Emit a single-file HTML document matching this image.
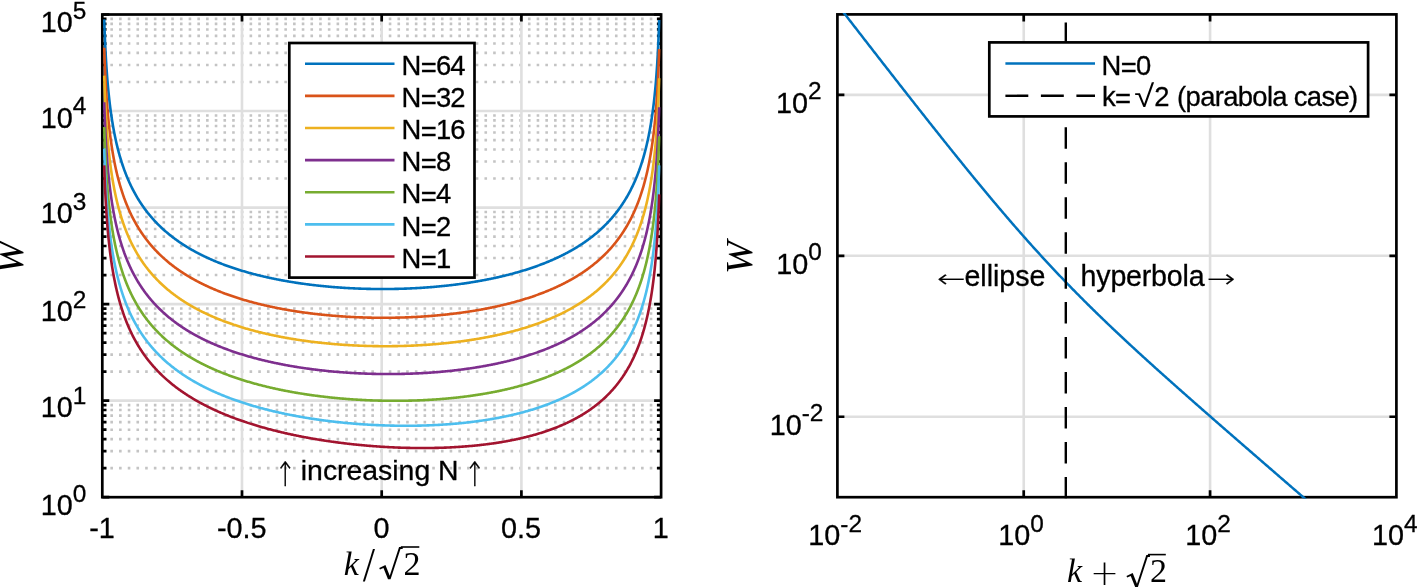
<!DOCTYPE html>
<html lang="en"><head><meta charset="utf-8"><title>W(k) plots</title>
<style>html,body{margin:0;padding:0;background:#fff;}body{width:1419px;height:587px;overflow:hidden;}svg{display:block;}</style>
</head><body>
<svg width="1419" height="587" viewBox="0 0 1419 587">
<rect width="1419" height="587" fill="#fff"/>
<defs><clipPath id="cl"><rect x="102.3" y="14.5" width="558.8" height="482.7"/></clipPath>
<clipPath id="cr"><rect x="837.4" y="13" width="559" height="485.6"/></clipPath></defs>
<path d="M110.35 468.14H661.1M110.35 451.14H661.1M110.35 439.08H661.1M110.35 429.72H661.1M110.35 422.08H661.1M110.35 415.61H661.1M110.35 410.02H661.1M110.35 405.08H661.1M110.35 371.6H661.1M110.35 354.6H661.1M110.35 342.54H661.1M110.35 333.18H661.1M110.35 325.54H661.1M110.35 319.07H661.1M110.35 313.48H661.1M110.35 308.54H661.1M110.35 275.06H661.1M110.35 258.06H661.1M110.35 246H661.1M110.35 236.64H661.1M110.35 229H661.1M110.35 222.53H661.1M110.35 216.94H661.1M110.35 212H661.1M110.35 178.52H661.1M110.35 161.52H661.1M110.35 149.46H661.1M110.35 140.1H661.1M110.35 132.46H661.1M110.35 125.99H661.1M110.35 120.4H661.1M110.35 115.46H661.1M110.35 81.98H661.1M110.35 64.98H661.1M110.35 52.92H661.1M110.35 43.56H661.1M110.35 35.92H661.1M110.35 29.45H661.1M110.35 23.86H661.1M110.35 18.92H661.1" stroke="#C4C4C4" stroke-width="2.6" stroke-dasharray="2.6 6.1" fill="none"/>
<path d="M102.3 400.66H661.1M102.3 304.12H661.1M102.3 207.58H661.1M102.3 111.04H661.1M242 14.5V497.2M381.7 14.5V497.2M521.4 14.5V497.2" stroke="#DFDFDF" stroke-width="2.6" fill="none"/>
<path d="M242 497.2v-7M242 14.5v7M381.7 497.2v-7M381.7 14.5v7M521.4 497.2v-7M521.4 14.5v7M102.3 497.2h7M661.1 497.2h-7M102.3 468.14h4.2M661.1 468.14h-4.2M102.3 451.14h4.2M661.1 451.14h-4.2M102.3 439.08h4.2M661.1 439.08h-4.2M102.3 429.72h4.2M661.1 429.72h-4.2M102.3 422.08h4.2M661.1 422.08h-4.2M102.3 415.61h4.2M661.1 415.61h-4.2M102.3 410.02h4.2M661.1 410.02h-4.2M102.3 405.08h4.2M661.1 405.08h-4.2M102.3 400.66h7M661.1 400.66h-7M102.3 371.6h4.2M661.1 371.6h-4.2M102.3 354.6h4.2M661.1 354.6h-4.2M102.3 342.54h4.2M661.1 342.54h-4.2M102.3 333.18h4.2M661.1 333.18h-4.2M102.3 325.54h4.2M661.1 325.54h-4.2M102.3 319.07h4.2M661.1 319.07h-4.2M102.3 313.48h4.2M661.1 313.48h-4.2M102.3 308.54h4.2M661.1 308.54h-4.2M102.3 304.12h7M661.1 304.12h-7M102.3 275.06h4.2M661.1 275.06h-4.2M102.3 258.06h4.2M661.1 258.06h-4.2M102.3 246h4.2M661.1 246h-4.2M102.3 236.64h4.2M661.1 236.64h-4.2M102.3 229h4.2M661.1 229h-4.2M102.3 222.53h4.2M661.1 222.53h-4.2M102.3 216.94h4.2M661.1 216.94h-4.2M102.3 212h4.2M661.1 212h-4.2M102.3 207.58h7M661.1 207.58h-7M102.3 178.52h4.2M661.1 178.52h-4.2M102.3 161.52h4.2M661.1 161.52h-4.2M102.3 149.46h4.2M661.1 149.46h-4.2M102.3 140.1h4.2M661.1 140.1h-4.2M102.3 132.46h4.2M661.1 132.46h-4.2M102.3 125.99h4.2M661.1 125.99h-4.2M102.3 120.4h4.2M661.1 120.4h-4.2M102.3 115.46h4.2M661.1 115.46h-4.2M102.3 111.04h7M661.1 111.04h-7M102.3 81.98h4.2M661.1 81.98h-4.2M102.3 64.98h4.2M661.1 64.98h-4.2M102.3 52.92h4.2M661.1 52.92h-4.2M102.3 43.56h4.2M661.1 43.56h-4.2M102.3 35.92h4.2M661.1 35.92h-4.2M102.3 29.45h4.2M661.1 29.45h-4.2M102.3 23.86h4.2M661.1 23.86h-4.2M102.3 18.92h4.2M661.1 18.92h-4.2M102.3 14.5h7M661.1 14.5h-7" stroke="#000" stroke-width="2.7" fill="none"/>
<rect x="102.3" y="14.5" width="558.8" height="482.7" fill="none" stroke="#000" stroke-width="2.7"/>
<g clip-path="url(#cl)" fill="none" stroke-width="2.6" stroke-linejoin="round">
<polyline points="104.24,19.41 104.29,21.08 104.39,24.33 104.5,27.5 104.61,30.59 104.73,33.6 104.85,36.54 104.97,39.42 105.09,42.23 105.21,44.97 105.34,47.66 105.47,50.29 105.6,52.86 105.74,55.38 105.88,57.85 106.02,60.27 106.16,62.65 106.31,64.97 106.46,67.26 106.61,69.5 106.77,71.71 106.93,73.87 107.09,76 107.25,78.09 107.41,80.14 107.58,82.16 107.75,84.15 107.93,86.1 108.11,88.02 108.28,89.92 108.47,91.78 108.65,93.62 108.84,95.42 109.03,97.21 109.22,98.96 109.42,100.69 109.62,102.39 109.82,104.08 110.02,105.73 110.23,107.37 110.44,108.98 110.65,110.57 110.86,112.14 111.08,113.69 111.3,115.22 111.52,116.73 111.74,118.22 111.97,119.69 112.2,121.14 112.44,122.58 112.67,124 112.91,125.4 113.15,126.78 113.39,128.15 113.64,129.5 113.89,130.84 114.14,132.16 114.39,133.47 114.65,134.76 114.91,136.04 115.17,137.3 115.44,138.55 115.7,139.79 115.97,141.01 116.25,142.22 116.52,143.42 116.8,144.6 117.08,145.77 117.36,146.93 117.65,148.08 117.94,149.22 118.23,150.34 118.52,151.46 118.82,152.56 119.12,153.65 119.42,154.74 119.72,155.81 120.03,156.87 120.34,157.92 120.65,158.96 120.96,159.99 121.28,161.01 121.6,162.02 121.92,163.03 122.24,164.02 122.57,165.01 122.9,165.98 123.23,166.95 123.57,167.91 123.91,168.86 124.24,169.8 124.59,170.73 124.93,171.66 125.28,172.57 125.63,173.48 125.98,174.39 126.34,175.28 126.69,176.17 127.05,177.05 127.42,177.92 127.78,178.78 128.15,179.64 128.52,180.49 128.89,181.33 129.27,182.17 129.64,183 130.02,183.82 130.41,184.64 130.79,185.45 131.18,186.25 131.57,187.05 131.96,187.84 132.36,188.63 132.75,189.4 133.15,190.18 133.55,190.94 133.96,191.71 134.37,192.46 134.78,193.21 135.19,193.95 135.6,194.69 136.02,195.42 136.44,196.15 136.86,196.87 137.28,197.59 137.71,198.3 138.14,199.01 138.57,199.71 139,200.4 139.44,201.09 139.88,201.78 140.32,202.46 140.76,203.14 141.21,203.81 141.66,204.47 142.11,205.13 142.56,205.79 143.01,206.44 143.47,207.09 143.93,207.73 144.39,208.37 144.86,209.01 145.33,209.64 145.79,210.26 146.27,210.88 146.74,211.5 147.22,212.11 147.69,212.72 148.18,213.32 148.66,213.92 149.14,214.52 149.63,215.11 150.12,215.7 150.61,216.28 151.11,216.86 151.6,217.44 152.1,218.01 152.61,218.58 153.11,219.14 153.61,219.7 154.12,220.26 154.63,220.81 155.15,221.36 155.66,221.91 156.18,222.45 156.7,222.99 157.22,223.53 157.74,224.06 158.27,224.59 158.8,225.11 159.33,225.63 159.86,226.15 160.39,226.67 160.93,227.18 161.47,227.69 162.01,228.19 162.55,228.69 163.1,229.19 163.65,229.69 164.2,230.18 164.75,230.67 165.3,231.15 165.86,231.64 166.42,232.12 166.98,232.59 167.54,233.07 168.11,233.54 168.67,234.01 169.24,234.47 169.81,234.93 170.39,235.39 170.96,235.85 171.54,236.3 172.12,236.75 172.7,237.2 173.28,237.64 173.87,238.08 174.46,238.52 175.05,238.96 175.64,239.39 176.23,239.82 176.83,240.25 177.43,240.68 178.03,241.1 178.63,241.52 179.23,241.94 179.84,242.35 180.45,242.76 181.06,243.17 181.67,243.58 182.28,243.99 182.9,244.39 183.51,244.79 184.13,245.18 184.76,245.58 185.38,245.97 186.01,246.36 186.63,246.75 187.26,247.13 187.89,247.51 188.53,247.89 189.16,248.27 189.8,248.65 190.44,249.02 191.08,249.39 191.72,249.76 192.37,250.13 193.01,250.49 193.66,250.85 194.31,251.21 194.96,251.57 195.62,251.92 196.27,252.27 196.93,252.62 197.59,252.97 198.25,253.32 198.91,253.66 199.58,254 200.24,254.34 200.91,254.68 201.58,255.01 202.25,255.35 202.93,255.68 203.6,256.01 204.28,256.33 204.96,256.66 205.64,256.98 206.32,257.3 207.01,257.62 207.69,257.94 208.38,258.25 209.07,258.56 209.76,258.87 210.45,259.18 211.15,259.49 211.84,259.79 212.54,260.09 213.24,260.39 213.94,260.69 214.65,260.99 215.35,261.28 216.06,261.58 216.76,261.87 217.47,262.16 218.18,262.44 218.9,262.73 219.61,263.01 220.33,263.29 221.04,263.57 221.76,263.85 222.48,264.13 223.21,264.4 223.93,264.67 224.65,264.94 225.38,265.21 226.11,265.48 226.84,265.74 227.57,266.01 228.3,266.27 229.04,266.53 229.77,266.78 230.51,267.04 231.25,267.29 231.99,267.55 232.73,267.8 233.48,268.05 234.22,268.29 234.97,268.54 235.71,268.78 236.46,269.03 237.21,269.27 237.97,269.51 238.72,269.74 239.47,269.98 240.23,270.21 240.99,270.44 241.75,270.67 242.51,270.9 243.27,271.13 244.03,271.36 244.8,271.58 245.56,271.8 246.33,272.02 247.1,272.24 247.87,272.46 248.64,272.68 249.41,272.89 250.19,273.1 250.96,273.31 251.74,273.52 252.51,273.73 253.29,273.94 254.07,274.14 254.86,274.34 255.64,274.55 256.42,274.75 257.21,274.94 257.99,275.14 258.78,275.34 259.57,275.53 260.36,275.72 261.15,275.91 261.94,276.1 262.74,276.29 263.53,276.48 264.33,276.66 265.13,276.85 265.92,277.03 266.72,277.21 267.52,277.39 268.33,277.56 269.13,277.74 269.93,277.91 270.74,278.09 271.54,278.26 272.35,278.43 273.16,278.6 273.97,278.76 274.78,278.93 275.59,279.09 276.4,279.26 277.22,279.42 278.03,279.58 278.85,279.73 279.66,279.89 280.48,280.05 281.3,280.2 282.12,280.35 282.94,280.5 283.76,280.65 284.58,280.8 285.41,280.95 286.23,281.09 287.06,281.24 287.88,281.38 288.71,281.52 289.54,281.66 290.37,281.8 291.2,281.94 292.03,282.07 292.86,282.21 293.69,282.34 294.53,282.47 295.36,282.6 296.2,282.73 297.03,282.86 297.87,282.99 298.71,283.11 299.55,283.23 300.38,283.36 301.22,283.48 302.07,283.6 302.91,283.71 303.75,283.83 304.59,283.95 305.44,284.06 306.28,284.17 307.13,284.28 307.97,284.39 308.82,284.5 309.67,284.61 310.52,284.72 311.37,284.82 312.22,284.92 313.07,285.03 313.92,285.13 314.77,285.23 315.62,285.32 316.48,285.42 317.33,285.52 318.18,285.61 319.04,285.7 319.89,285.8 320.75,285.89 321.61,285.97 322.47,286.06 323.32,286.15 324.18,286.23 325.04,286.32 325.9,286.4 326.76,286.48 327.62,286.56 328.48,286.64 329.35,286.72 330.21,286.79 331.07,286.87 331.93,286.94 332.8,287.01 333.66,287.08 334.53,287.15 335.39,287.22 336.26,287.29 337.13,287.35 337.99,287.42 338.86,287.48 339.73,287.54 340.59,287.6 341.46,287.66 342.33,287.72 343.2,287.78 344.07,287.83 344.94,287.89 345.81,287.94 346.68,287.99 347.55,288.04 348.42,288.09 349.3,288.14 350.17,288.19 351.04,288.23 351.91,288.28 352.79,288.32 353.66,288.36 354.53,288.4 355.41,288.44 356.28,288.48 357.15,288.52 358.03,288.55 358.9,288.59 359.78,288.62 360.65,288.65 361.53,288.68 362.4,288.71 363.28,288.74 364.16,288.77 365.03,288.79 365.91,288.82 366.79,288.84 367.66,288.86 368.54,288.88 369.42,288.9 370.29,288.92 371.17,288.94 372.05,288.95 372.92,288.97 373.8,288.98 374.68,288.99 375.56,289 376.43,289.01 377.31,289.02 378.19,289.03 379.07,289.03 379.94,289.04 380.82,289.04 381.7,289.04 382.58,289.04 383.46,289.04 384.33,289.04 385.21,289.04 386.09,289.03 386.97,289.03 387.84,289.02 388.72,289.01 389.6,289 390.48,288.99 391.35,288.98 392.23,288.97 393.11,288.95 393.98,288.94 394.86,288.92 395.74,288.9 396.61,288.88 397.49,288.86 398.37,288.84 399.24,288.82 400.12,288.79 401,288.77 401.87,288.74 402.75,288.71 403.62,288.69 404.5,288.65 405.37,288.62 406.25,288.59 407.12,288.56 407.99,288.52 408.87,288.48 409.74,288.45 410.61,288.41 411.49,288.37 412.36,288.32 413.23,288.28 414.1,288.24 414.98,288.19 415.85,288.14 416.72,288.1 417.59,288.05 418.46,288 419.33,287.95 420.2,287.89 421.07,287.84 421.94,287.78 422.81,287.73 423.67,287.67 424.54,287.61 425.41,287.55 426.27,287.49 427.14,287.42 428.01,287.36 428.87,287.29 429.74,287.22 430.6,287.16 431.47,287.09 432.33,287.02 433.19,286.94 434.05,286.87 434.92,286.8 435.78,286.72 436.64,286.64 437.5,286.56 438.36,286.48 439.22,286.4 440.08,286.32 440.93,286.24 441.79,286.15 442.65,286.06 443.51,285.98 444.36,285.89 445.22,285.8 446.07,285.71 446.92,285.61 447.78,285.52 448.63,285.42 449.48,285.33 450.33,285.23 451.18,285.13 452.03,285.03 452.88,284.92 453.73,284.82 454.58,284.72 455.43,284.61 456.27,284.5 457.12,284.39 457.96,284.28 458.81,284.17 459.65,284.06 460.49,283.94 461.33,283.83 462.18,283.71 463.02,283.59 463.85,283.47 464.69,283.35 465.53,283.23 466.37,283.11 467.2,282.98 468.04,282.86 468.87,282.73 469.71,282.6 470.54,282.47 471.37,282.34 472.2,282.2 473.03,282.07 473.86,281.93 474.69,281.79 475.52,281.65 476.34,281.51 477.17,281.37 477.99,281.23 478.82,281.08 479.64,280.94 480.46,280.79 481.28,280.64 482.1,280.49 482.92,280.34 483.74,280.19 484.55,280.03 485.37,279.88 486.18,279.72 487,279.56 487.81,279.4 488.62,279.24 489.43,279.07 490.24,278.91 491.05,278.74 491.86,278.58 492.66,278.41 493.47,278.24 494.27,278.06 495.07,277.89 495.88,277.71 496.68,277.54 497.48,277.36 498.27,277.18 499.07,277 499.87,276.82 500.66,276.63 501.46,276.45 502.25,276.26 503.04,276.07 503.83,275.88 504.62,275.69 505.41,275.5 506.19,275.3 506.98,275.1 507.76,274.91 508.54,274.71 509.33,274.51 510.11,274.3 510.89,274.1 511.66,273.89 512.44,273.69 513.21,273.48 513.99,273.27 514.76,273.05 515.53,272.84 516.3,272.62 517.07,272.41 517.84,272.19 518.6,271.97 519.37,271.75 520.13,271.52 520.89,271.3 521.65,271.07 522.41,270.84 523.17,270.61 523.93,270.38 524.68,270.15 525.43,269.91 526.19,269.67 526.94,269.44 527.69,269.2 528.43,268.95 529.18,268.71 529.92,268.46 530.67,268.22 531.41,267.97 532.15,267.72 532.89,267.47 533.63,267.21 534.36,266.95 535.1,266.7 535.83,266.44 536.56,266.18 537.29,265.91 538.02,265.65 538.75,265.38 539.47,265.11 540.19,264.84 540.92,264.57 541.64,264.3 542.36,264.02 543.07,263.74 543.79,263.46 544.5,263.18 545.22,262.9 545.93,262.61 546.64,262.33 547.34,262.04 548.05,261.75 548.75,261.45 549.46,261.16 550.16,260.86 550.86,260.56 551.56,260.26 552.25,259.96 552.95,259.65 553.64,259.35 554.33,259.04 555.02,258.73 555.71,258.41 556.39,258.1 557.08,257.78 557.76,257.46 558.44,257.14 559.12,256.82 559.8,256.5 560.47,256.17 561.15,255.84 561.82,255.51 562.49,255.17 563.16,254.84 563.82,254.5 564.49,254.16 565.15,253.82 565.81,253.47 566.47,253.13 567.13,252.78 567.78,252.43 568.44,252.07 569.09,251.72 569.74,251.36 570.39,251 571.03,250.64 571.68,250.27 572.32,249.91 572.96,249.54 573.6,249.17 574.24,248.79 574.87,248.42 575.51,248.04 576.14,247.66 576.77,247.27 577.39,246.89 578.02,246.5 578.64,246.11 579.27,245.72 579.89,245.32 580.5,244.92 581.12,244.52 581.73,244.12 582.34,243.71 582.95,243.3 583.56,242.89 584.17,242.48 584.77,242.06 585.37,241.64 585.97,241.22 586.57,240.8 587.17,240.37 587.76,239.94 588.35,239.51 588.94,239.07 589.53,238.64 590.12,238.2 590.7,237.75 591.28,237.31 591.86,236.86 592.44,236.41 593.01,235.95 593.59,235.49 594.16,235.03 594.73,234.57 595.29,234.1 595.86,233.63 596.42,233.16 596.98,232.68 597.54,232.21 598.1,231.72 598.65,231.24 599.2,230.75 599.75,230.26 600.3,229.77 600.85,229.27 601.39,228.77 601.93,228.26 602.47,227.76 603.01,227.25 603.54,226.73 604.07,226.21 604.6,225.69 605.13,225.17 605.66,224.64 606.18,224.11 606.7,223.58 607.22,223.04 607.74,222.5 608.25,221.95 608.77,221.4 609.28,220.85 609.79,220.29 610.29,219.73 610.79,219.17 611.3,218.6 611.8,218.03 612.29,217.46 612.79,216.88 613.28,216.29 613.77,215.71 614.26,215.12 614.74,214.52 615.22,213.92 615.71,213.32 616.18,212.71 616.66,212.1 617.13,211.48 617.61,210.86 618.07,210.24 618.54,209.61 619.01,208.98 619.47,208.34 619.93,207.7 620.39,207.05 620.84,206.4 621.29,205.74 621.74,205.08 622.19,204.42 622.64,203.75 623.08,203.07 623.52,202.39 623.96,201.71 624.4,201.02 624.83,200.32 625.26,199.62 625.69,198.92 626.12,198.21 626.54,197.49 626.96,196.77 627.38,196.04 627.8,195.31 628.21,194.57 628.62,193.83 629.03,193.08 629.44,192.33 629.85,191.57 630.25,190.8 630.65,190.03 631.04,189.25 631.44,188.46 631.83,187.67 632.22,186.88 632.61,186.07 632.99,185.26 633.38,184.45 633.76,183.63 634.13,182.8 634.51,181.96 634.88,181.12 635.25,180.27 635.62,179.41 635.98,178.55 636.35,177.68 636.71,176.8 637.06,175.91 637.42,175.02 637.77,174.12 638.12,173.21 638.47,172.29 638.81,171.36 639.16,170.43 639.49,169.49 639.83,168.54 640.17,167.58 640.5,166.62 640.83,165.64 641.16,164.66 641.48,163.66 641.8,162.66 642.12,161.65 642.44,160.63 642.75,159.6 643.06,158.56 643.37,157.51 643.68,156.45 643.98,155.37 644.28,154.29 644.58,153.2 644.88,152.1 645.17,150.98 645.46,149.86 645.75,148.72 646.04,147.57 646.32,146.41 646.6,145.24 646.88,144.06 647.15,142.86 647.43,141.65 647.7,140.43 647.96,139.19 648.23,137.94 648.49,136.68 648.75,135.4 649.01,134.11 649.26,132.81 649.51,131.48 649.76,130.15 650.01,128.8 650.25,127.43 650.49,126.04 650.73,124.64 650.96,123.22 651.2,121.79 651.43,120.34 651.66,118.86 651.88,117.37 652.1,115.86 652.32,114.34 652.54,112.79 652.75,111.22 652.96,109.63 653.17,108.01 653.38,106.38 653.58,104.72 653.78,103.04 653.98,101.34 654.18,99.61 654.37,97.85 654.56,96.07 654.75,94.26 654.93,92.43 655.12,90.56 655.29,88.67 655.47,86.75 655.65,84.79 655.82,82.81 655.99,80.79 656.15,78.73 656.31,76.64 656.47,74.52 656.63,72.35 656.79,70.15 656.94,67.91 657.09,65.62 657.24,63.29 657.38,60.92 657.52,58.5 657.66,56.03 657.8,53.51 657.93,50.94 658.06,48.31 658.19,45.62 658.31,42.88 658.43,40.07 658.55,37.19 658.67,34.25 658.79,31.24 658.9,28.15 659.01,24.98 659.11,21.73 659.16,20.06" stroke="#0072BD"/>
<polyline points="104.24,47.83 104.29,49.5 104.39,52.75 104.5,55.92 104.61,59.01 104.73,62.02 104.85,64.97 104.97,67.84 105.09,70.65 105.21,73.39 105.34,76.08 105.47,78.71 105.6,81.28 105.74,83.8 105.88,86.27 106.02,88.69 106.16,91.07 106.31,93.4 106.46,95.68 106.61,97.93 106.77,100.13 106.93,102.29 107.09,104.42 107.25,106.51 107.41,108.56 107.58,110.58 107.75,112.57 107.93,114.52 108.11,116.45 108.28,118.34 108.47,120.2 108.65,122.04 108.84,123.85 109.03,125.63 109.22,127.38 109.42,129.11 109.62,130.82 109.82,132.5 110.02,134.16 110.23,135.79 110.44,137.4 110.65,138.99 110.86,140.56 111.08,142.11 111.3,143.64 111.52,145.15 111.74,146.64 111.97,148.11 112.2,149.57 112.44,151 112.67,152.42 112.91,153.82 113.15,155.21 113.39,156.58 113.64,157.93 113.89,159.27 114.14,160.59 114.39,161.89 114.65,163.19 114.91,164.46 115.17,165.73 115.44,166.98 115.7,168.21 115.97,169.44 116.25,170.65 116.52,171.84 116.8,173.03 117.08,174.2 117.36,175.36 117.65,176.51 117.94,177.65 118.23,178.77 118.52,179.89 118.82,180.99 119.12,182.08 119.42,183.16 119.72,184.23 120.03,185.3 120.34,186.35 120.65,187.39 120.96,188.42 121.28,189.44 121.6,190.45 121.92,191.46 122.24,192.45 122.57,193.43 122.9,194.41 123.23,195.38 123.57,196.34 123.91,197.29 124.24,198.23 124.59,199.16 124.93,200.09 125.28,201 125.63,201.91 125.98,202.82 126.34,203.71 126.69,204.6 127.05,205.48 127.42,206.35 127.78,207.21 128.15,208.07 128.52,208.92 128.89,209.77 129.27,210.6 129.64,211.43 130.02,212.26 130.41,213.07 130.79,213.88 131.18,214.69 131.57,215.48 131.96,216.28 132.36,217.06 132.75,217.84 133.15,218.61 133.55,219.38 133.96,220.14 134.37,220.9 134.78,221.65 135.19,222.39 135.6,223.13 136.02,223.86 136.44,224.59 136.86,225.31 137.28,226.03 137.71,226.74 138.14,227.45 138.57,228.15 139,228.84 139.44,229.53 139.88,230.22 140.32,230.9 140.76,231.58 141.21,232.25 141.66,232.91 142.11,233.58 142.56,234.23 143.01,234.88 143.47,235.53 143.93,236.18 144.39,236.81 144.86,237.45 145.33,238.08 145.79,238.7 146.27,239.33 146.74,239.94 147.22,240.56 147.69,241.16 148.18,241.77 148.66,242.37 149.14,242.96 149.63,243.56 150.12,244.15 150.61,244.73 151.11,245.31 151.6,245.89 152.1,246.46 152.61,247.03 153.11,247.59 153.61,248.15 154.12,248.71 154.63,249.26 155.15,249.81 155.66,250.36 156.18,250.9 156.7,251.44 157.22,251.98 157.74,252.51 158.27,253.04 158.8,253.57 159.33,254.09 159.86,254.61 160.39,255.12 160.93,255.63 161.47,256.14 162.01,256.65 162.55,257.15 163.1,257.65 163.65,258.15 164.2,258.64 164.75,259.13 165.3,259.61 165.86,260.1 166.42,260.58 166.98,261.06 167.54,261.53 168.11,262 168.67,262.47 169.24,262.93 169.81,263.4 170.39,263.86 170.96,264.31 171.54,264.77 172.12,265.22 172.7,265.66 173.28,266.11 173.87,266.55 174.46,266.99 175.05,267.43 175.64,267.86 176.23,268.29 176.83,268.72 177.43,269.15 178.03,269.57 178.63,269.99 179.23,270.41 179.84,270.83 180.45,271.24 181.06,271.65 181.67,272.06 182.28,272.46 182.9,272.86 183.51,273.26 184.13,273.66 184.76,274.06 185.38,274.45 186.01,274.84 186.63,275.23 187.26,275.61 187.89,276 188.53,276.38 189.16,276.76 189.8,277.13 190.44,277.5 191.08,277.88 191.72,278.25 192.37,278.61 193.01,278.98 193.66,279.34 194.31,279.7 194.96,280.06 195.62,280.41 196.27,280.76 196.93,281.12 197.59,281.46 198.25,281.81 198.91,282.15 199.58,282.5 200.24,282.84 200.91,283.17 201.58,283.51 202.25,283.84 202.93,284.18 203.6,284.51 204.28,284.83 204.96,285.16 205.64,285.48 206.32,285.8 207.01,286.12 207.69,286.44 208.38,286.75 209.07,287.07 209.76,287.38 210.45,287.69 211.15,287.99 211.84,288.3 212.54,288.6 213.24,288.9 213.94,289.2 214.65,289.5 215.35,289.8 216.06,290.09 216.76,290.38 217.47,290.67 218.18,290.96 218.9,291.24 219.61,291.53 220.33,291.81 221.04,292.09 221.76,292.37 222.48,292.65 223.21,292.92 223.93,293.19 224.65,293.47 225.38,293.73 226.11,294 226.84,294.27 227.57,294.53 228.3,294.79 229.04,295.05 229.77,295.31 230.51,295.57 231.25,295.83 231.99,296.08 232.73,296.33 233.48,296.58 234.22,296.83 234.97,297.08 235.71,297.32 236.46,297.56 237.21,297.8 237.97,298.04 238.72,298.28 239.47,298.52 240.23,298.75 240.99,298.99 241.75,299.22 242.51,299.45 243.27,299.68 244.03,299.9 244.8,300.13 245.56,300.35 246.33,300.57 247.1,300.79 247.87,301.01 248.64,301.23 249.41,301.44 250.19,301.66 250.96,301.87 251.74,302.08 252.51,302.29 253.29,302.5 254.07,302.7 254.86,302.91 255.64,303.11 256.42,303.31 257.21,303.51 257.99,303.71 258.78,303.9 259.57,304.1 260.36,304.29 261.15,304.48 261.94,304.67 262.74,304.86 263.53,305.05 264.33,305.23 265.13,305.42 265.92,305.6 266.72,305.78 267.52,305.96 268.33,306.14 269.13,306.32 269.93,306.49 270.74,306.67 271.54,306.84 272.35,307.01 273.16,307.18 273.97,307.35 274.78,307.51 275.59,307.68 276.4,307.84 277.22,308.01 278.03,308.17 278.85,308.33 279.66,308.48 280.48,308.64 281.3,308.8 282.12,308.95 282.94,309.1 283.76,309.25 284.58,309.4 285.41,309.55 286.23,309.7 287.06,309.84 287.88,309.99 288.71,310.13 289.54,310.27 290.37,310.41 291.2,310.55 292.03,310.68 292.86,310.82 293.69,310.95 294.53,311.09 295.36,311.22 296.2,311.35 297.03,311.48 297.87,311.6 298.71,311.73 299.55,311.85 300.38,311.98 301.22,312.1 302.07,312.22 302.91,312.34 303.75,312.46 304.59,312.57 305.44,312.69 306.28,312.8 307.13,312.91 307.97,313.03 308.82,313.14 309.67,313.24 310.52,313.35 311.37,313.46 312.22,313.56 313.07,313.67 313.92,313.77 314.77,313.87 315.62,313.97 316.48,314.06 317.33,314.16 318.18,314.26 319.04,314.35 319.89,314.44 320.75,314.54 321.61,314.63 322.47,314.71 323.32,314.8 324.18,314.89 325.04,314.97 325.9,315.06 326.76,315.14 327.62,315.22 328.48,315.3 329.35,315.38 330.21,315.46 331.07,315.53 331.93,315.61 332.8,315.68 333.66,315.75 334.53,315.82 335.39,315.89 336.26,315.96 337.13,316.03 337.99,316.09 338.86,316.16 339.73,316.22 340.59,316.28 341.46,316.34 342.33,316.4 343.2,316.46 344.07,316.52 344.94,316.57 345.81,316.63 346.68,316.68 347.55,316.73 348.42,316.78 349.3,316.83 350.17,316.88 351.04,316.93 351.91,316.97 352.79,317.02 353.66,317.06 354.53,317.1 355.41,317.14 356.28,317.18 357.15,317.22 358.03,317.26 358.9,317.29 359.78,317.33 360.65,317.36 361.53,317.39 362.4,317.42 363.28,317.45 364.16,317.48 365.03,317.51 365.91,317.53 366.79,317.56 367.66,317.58 368.54,317.6 369.42,317.62 370.29,317.64 371.17,317.66 372.05,317.68 372.92,317.69 373.8,317.71 374.68,317.72 375.56,317.73 376.43,317.74 377.31,317.75 378.19,317.76 379.07,317.77 379.94,317.77 380.82,317.78 381.7,317.78 382.58,317.78 383.46,317.78 384.33,317.78 385.21,317.78 386.09,317.78 386.97,317.77 387.84,317.77 388.72,317.76 389.6,317.75 390.48,317.74 391.35,317.73 392.23,317.72 393.11,317.71 393.98,317.69 394.86,317.68 395.74,317.66 396.61,317.64 397.49,317.62 398.37,317.6 399.24,317.58 400.12,317.56 401,317.53 401.87,317.51 402.75,317.48 403.62,317.45 404.5,317.43 405.37,317.4 406.25,317.36 407.12,317.33 407.99,317.3 408.87,317.26 409.74,317.22 410.61,317.19 411.49,317.15 412.36,317.11 413.23,317.07 414.1,317.02 414.98,316.98 415.85,316.93 416.72,316.89 417.59,316.84 418.46,316.79 419.33,316.74 420.2,316.69 421.07,316.63 421.94,316.58 422.81,316.52 423.67,316.47 424.54,316.41 425.41,316.35 426.27,316.29 427.14,316.23 428.01,316.16 428.87,316.1 429.74,316.03 430.6,315.97 431.47,315.9 432.33,315.83 433.19,315.76 434.05,315.68 434.92,315.61 435.78,315.54 436.64,315.46 437.5,315.38 438.36,315.3 439.22,315.22 440.08,315.14 440.93,315.06 441.79,314.98 442.65,314.89 443.51,314.8 444.36,314.72 445.22,314.63 446.07,314.54 446.92,314.44 447.78,314.35 448.63,314.26 449.48,314.16 450.33,314.06 451.18,313.97 452.03,313.87 452.88,313.77 453.73,313.66 454.58,313.56 455.43,313.45 456.27,313.35 457.12,313.24 457.96,313.13 458.81,313.02 459.65,312.91 460.49,312.8 461.33,312.68 462.18,312.57 463.02,312.45 463.85,312.33 464.69,312.21 465.53,312.09 466.37,311.97 467.2,311.84 468.04,311.72 468.87,311.59 469.71,311.46 470.54,311.33 471.37,311.2 472.2,311.07 473.03,310.94 473.86,310.8 474.69,310.66 475.52,310.53 476.34,310.39 477.17,310.25 477.99,310.1 478.82,309.96 479.64,309.82 480.46,309.67 481.28,309.52 482.1,309.37 482.92,309.22 483.74,309.07 484.55,308.92 485.37,308.76 486.18,308.61 487,308.45 487.81,308.29 488.62,308.13 489.43,307.97 490.24,307.8 491.05,307.64 491.86,307.47 492.66,307.3 493.47,307.13 494.27,306.96 495.07,306.79 495.88,306.61 496.68,306.44 497.48,306.26 498.27,306.08 499.07,305.9 499.87,305.72 500.66,305.54 501.46,305.35 502.25,305.17 503.04,304.98 503.83,304.79 504.62,304.6 505.41,304.41 506.19,304.22 506.98,304.02 507.76,303.82 508.54,303.62 509.33,303.42 510.11,303.22 510.89,303.02 511.66,302.81 512.44,302.61 513.21,302.4 513.99,302.19 514.76,301.98 515.53,301.77 516.3,301.55 517.07,301.34 517.84,301.12 518.6,300.9 519.37,300.68 520.13,300.46 520.89,300.23 521.65,300.01 522.41,299.78 523.17,299.55 523.93,299.32 524.68,299.09 525.43,298.85 526.19,298.61 526.94,298.38 527.69,298.14 528.43,297.9 529.18,297.65 529.92,297.41 530.67,297.16 531.41,296.91 532.15,296.67 532.89,296.41 533.63,296.16 534.36,295.91 535.1,295.65 535.83,295.39 536.56,295.13 537.29,294.87 538.02,294.6 538.75,294.34 539.47,294.07 540.19,293.8 540.92,293.53 541.64,293.26 542.36,292.98 543.07,292.7 543.79,292.42 544.5,292.14 545.22,291.86 545.93,291.58 546.64,291.29 547.34,291 548.05,290.71 548.75,290.42 549.46,290.13 550.16,289.83 550.86,289.53 551.56,289.23 552.25,288.93 552.95,288.63 553.64,288.32 554.33,288.01 555.02,287.7 555.71,287.39 556.39,287.08 557.08,286.76 557.76,286.44 558.44,286.12 559.12,285.8 559.8,285.48 560.47,285.15 561.15,284.82 561.82,284.49 562.49,284.16 563.16,283.82 563.82,283.49 564.49,283.15 565.15,282.81 565.81,282.46 566.47,282.12 567.13,281.77 567.78,281.42 568.44,281.07 569.09,280.71 569.74,280.35 570.39,279.99 571.03,279.63 571.68,279.27 572.32,278.9 572.96,278.53 573.6,278.16 574.24,277.79 574.87,277.41 575.51,277.04 576.14,276.66 576.77,276.27 577.39,275.89 578.02,275.5 578.64,275.11 579.27,274.72 579.89,274.32 580.5,273.92 581.12,273.52 581.73,273.12 582.34,272.72 582.95,272.31 583.56,271.9 584.17,271.49 584.77,271.07 585.37,270.65 585.97,270.23 586.57,269.81 587.17,269.38 587.76,268.95 588.35,268.52 588.94,268.09 589.53,267.65 590.12,267.21 590.7,266.77 591.28,266.32 591.86,265.87 592.44,265.42 593.01,264.97 593.59,264.51 594.16,264.05 594.73,263.59 595.29,263.12 595.86,262.65 596.42,262.18 596.98,261.7 597.54,261.23 598.1,260.74 598.65,260.26 599.2,259.77 599.75,259.28 600.3,258.79 600.85,258.29 601.39,257.79 601.93,257.29 602.47,256.78 603.01,256.27 603.54,255.76 604.07,255.24 604.6,254.72 605.13,254.2 605.66,253.67 606.18,253.14 606.7,252.6 607.22,252.07 607.74,251.53 608.25,250.98 608.77,250.43 609.28,249.88 609.79,249.33 610.29,248.77 610.79,248.2 611.3,247.64 611.8,247.06 612.29,246.49 612.79,245.91 613.28,245.33 613.77,244.74 614.26,244.15 614.74,243.56 615.22,242.96 615.71,242.36 616.18,241.75 616.66,241.14 617.13,240.52 617.61,239.9 618.07,239.28 618.54,238.65 619.01,238.02 619.47,237.38 619.93,236.74 620.39,236.09 620.84,235.44 621.29,234.78 621.74,234.12 622.19,233.46 622.64,232.79 623.08,232.11 623.52,231.43 623.96,230.75 624.4,230.06 624.83,229.37 625.26,228.67 625.69,227.96 626.12,227.25 626.54,226.53 626.96,225.81 627.38,225.09 627.8,224.36 628.21,223.62 628.62,222.88 629.03,222.13 629.44,221.37 629.85,220.61 630.25,219.85 630.65,219.07 631.04,218.3 631.44,217.51 631.83,216.72 632.22,215.93 632.61,215.12 632.99,214.31 633.38,213.5 633.76,212.68 634.13,211.85 634.51,211.01 634.88,210.17 635.25,209.32 635.62,208.46 635.98,207.6 636.35,206.73 636.71,205.85 637.06,204.96 637.42,204.07 637.77,203.17 638.12,202.26 638.47,201.34 638.81,200.42 639.16,199.48 639.49,198.54 639.83,197.59 640.17,196.64 640.5,195.67 640.83,194.69 641.16,193.71 641.48,192.72 641.8,191.72 642.12,190.7 642.44,189.68 642.75,188.65 643.06,187.61 643.37,186.56 643.68,185.5 643.98,184.43 644.28,183.35 644.58,182.26 644.88,181.15 645.17,180.04 645.46,178.92 645.75,177.78 646.04,176.63 646.32,175.47 646.6,174.3 646.88,173.12 647.15,171.92 647.43,170.71 647.7,169.49 647.96,168.25 648.23,167 648.49,165.74 648.75,164.46 649.01,163.17 649.26,161.86 649.51,160.54 649.76,159.21 650.01,157.85 650.25,156.49 650.49,155.1 650.73,153.7 650.96,152.28 651.2,150.85 651.43,149.39 651.66,147.92 651.88,146.43 652.1,144.92 652.32,143.39 652.54,141.85 652.75,140.28 652.96,138.69 653.17,137.07 653.38,135.44 653.58,133.78 653.78,132.1 653.98,130.4 654.18,128.67 654.37,126.91 654.56,125.13 654.75,123.32 654.93,121.49 655.12,119.62 655.29,117.73 655.47,115.81 655.65,113.85 655.82,111.87 655.99,109.85 656.15,107.79 656.31,105.7 656.47,103.58 656.63,101.42 656.79,99.21 656.94,96.97 657.09,94.68 657.24,92.36 657.38,89.98 657.52,87.56 657.66,85.09 657.8,82.57 657.93,80 658.06,77.37 658.19,74.68 658.31,71.94 658.43,69.13 658.55,66.25 658.67,63.31 658.79,60.3 658.9,57.21 659.01,54.04 659.11,50.79 659.16,49.12" stroke="#D95319"/>
<polyline points="104.24,75.64 104.29,77.31 104.39,80.56 104.5,83.73 104.61,86.82 104.73,89.83 104.85,92.78 104.97,95.65 105.09,98.46 105.21,101.2 105.34,103.89 105.47,106.52 105.6,109.09 105.74,111.61 105.88,114.08 106.02,116.5 106.16,118.88 106.31,121.21 106.46,123.49 106.61,125.74 106.77,127.94 106.93,130.1 107.09,132.23 107.25,134.32 107.41,136.37 107.58,138.39 107.75,140.38 107.93,142.33 108.11,144.26 108.28,146.15 108.47,148.02 108.65,149.85 108.84,151.66 109.03,153.44 109.22,155.2 109.42,156.93 109.62,158.63 109.82,160.31 110.02,161.97 110.23,163.6 110.44,165.22 110.65,166.81 110.86,168.38 111.08,169.93 111.3,171.46 111.52,172.97 111.74,174.46 111.97,175.93 112.2,177.38 112.44,178.82 112.67,180.24 112.91,181.64 113.15,183.02 113.39,184.39 113.64,185.74 113.89,187.08 114.14,188.4 114.39,189.71 114.65,191 114.91,192.28 115.17,193.54 115.44,194.79 115.7,196.03 115.97,197.25 116.25,198.46 116.52,199.66 116.8,200.85 117.08,202.02 117.36,203.18 117.65,204.33 117.94,205.46 118.23,206.59 118.52,207.71 118.82,208.81 119.12,209.9 119.42,210.98 119.72,212.06 120.03,213.12 120.34,214.17 120.65,215.21 120.96,216.24 121.28,217.26 121.6,218.28 121.92,219.28 122.24,220.27 122.57,221.26 122.9,222.23 123.23,223.2 123.57,224.16 123.91,225.11 124.24,226.05 124.59,226.99 124.93,227.91 125.28,228.83 125.63,229.74 125.98,230.64 126.34,231.54 126.69,232.43 127.05,233.31 127.42,234.18 127.78,235.04 128.15,235.9 128.52,236.75 128.89,237.6 129.27,238.43 129.64,239.26 130.02,240.09 130.41,240.9 130.79,241.72 131.18,242.52 131.57,243.32 131.96,244.11 132.36,244.9 132.75,245.67 133.15,246.45 133.55,247.22 133.96,247.98 134.37,248.73 134.78,249.48 135.19,250.23 135.6,250.97 136.02,251.7 136.44,252.43 136.86,253.15 137.28,253.87 137.71,254.58 138.14,255.29 138.57,255.99 139,256.69 139.44,257.38 139.88,258.06 140.32,258.75 140.76,259.42 141.21,260.09 141.66,260.76 142.11,261.42 142.56,262.08 143.01,262.73 143.47,263.38 143.93,264.03 144.39,264.67 144.86,265.3 145.33,265.93 145.79,266.56 146.27,267.18 146.74,267.8 147.22,268.41 147.69,269.02 148.18,269.62 148.66,270.23 149.14,270.82 149.63,271.42 150.12,272 150.61,272.59 151.11,273.17 151.6,273.75 152.1,274.32 152.61,274.89 153.11,275.46 153.61,276.02 154.12,276.58 154.63,277.13 155.15,277.68 155.66,278.23 156.18,278.77 156.7,279.31 157.22,279.85 157.74,280.38 158.27,280.91 158.8,281.44 159.33,281.96 159.86,282.48 160.39,283 160.93,283.51 161.47,284.02 162.01,284.53 162.55,285.03 163.1,285.53 163.65,286.03 164.2,286.52 164.75,287.01 165.3,287.5 165.86,287.98 166.42,288.46 166.98,288.94 167.54,289.42 168.11,289.89 168.67,290.36 169.24,290.83 169.81,291.29 170.39,291.75 170.96,292.21 171.54,292.66 172.12,293.11 172.7,293.56 173.28,294.01 173.87,294.45 174.46,294.89 175.05,295.33 175.64,295.76 176.23,296.2 176.83,296.63 177.43,297.05 178.03,297.48 178.63,297.9 179.23,298.32 179.84,298.74 180.45,299.15 181.06,299.56 181.67,299.97 182.28,300.38 182.9,300.78 183.51,301.18 184.13,301.58 184.76,301.98 185.38,302.37 186.01,302.76 186.63,303.15 187.26,303.54 187.89,303.92 188.53,304.3 189.16,304.68 189.8,305.06 190.44,305.44 191.08,305.81 191.72,306.18 192.37,306.55 193.01,306.91 193.66,307.28 194.31,307.64 194.96,308 195.62,308.35 196.27,308.71 196.93,309.06 197.59,309.41 198.25,309.76 198.91,310.1 199.58,310.45 200.24,310.79 200.91,311.13 201.58,311.46 202.25,311.8 202.93,312.13 203.6,312.46 204.28,312.79 204.96,313.12 205.64,313.44 206.32,313.77 207.01,314.09 207.69,314.41 208.38,314.72 209.07,315.04 209.76,315.35 210.45,315.66 211.15,315.97 211.84,316.28 212.54,316.58 213.24,316.88 213.94,317.18 214.65,317.48 215.35,317.78 216.06,318.07 216.76,318.37 217.47,318.66 218.18,318.95 218.9,319.24 219.61,319.52 220.33,319.81 221.04,320.09 221.76,320.37 222.48,320.65 223.21,320.92 223.93,321.2 224.65,321.47 225.38,321.74 226.11,322.01 226.84,322.28 227.57,322.54 228.3,322.81 229.04,323.07 229.77,323.33 230.51,323.59 231.25,323.85 231.99,324.1 232.73,324.35 233.48,324.61 234.22,324.86 234.97,325.1 235.71,325.35 236.46,325.6 237.21,325.84 237.97,326.08 238.72,326.32 239.47,326.56 240.23,326.8 240.99,327.03 241.75,327.26 242.51,327.5 243.27,327.73 244.03,327.95 244.8,328.18 245.56,328.41 246.33,328.63 247.1,328.85 247.87,329.07 248.64,329.29 249.41,329.51 250.19,329.72 250.96,329.94 251.74,330.15 252.51,330.36 253.29,330.57 254.07,330.78 254.86,330.98 255.64,331.19 256.42,331.39 257.21,331.59 257.99,331.79 258.78,331.99 259.57,332.19 260.36,332.38 261.15,332.58 261.94,332.77 262.74,332.96 263.53,333.15 264.33,333.34 265.13,333.52 265.92,333.71 266.72,333.89 267.52,334.07 268.33,334.25 269.13,334.43 269.93,334.61 270.74,334.78 271.54,334.96 272.35,335.13 273.16,335.3 273.97,335.47 274.78,335.64 275.59,335.81 276.4,335.98 277.22,336.14 278.03,336.3 278.85,336.46 279.66,336.62 280.48,336.78 281.3,336.94 282.12,337.1 282.94,337.25 283.76,337.4 284.58,337.55 285.41,337.7 286.23,337.85 287.06,338 287.88,338.15 288.71,338.29 289.54,338.44 290.37,338.58 291.2,338.72 292.03,338.86 292.86,338.99 293.69,339.13 294.53,339.27 295.36,339.4 296.2,339.53 297.03,339.66 297.87,339.79 298.71,339.92 299.55,340.05 300.38,340.17 301.22,340.3 302.07,340.42 302.91,340.54 303.75,340.66 304.59,340.78 305.44,340.9 306.28,341.01 307.13,341.13 307.97,341.24 308.82,341.35 309.67,341.46 310.52,341.57 311.37,341.68 312.22,341.79 313.07,341.89 313.92,342 314.77,342.1 315.62,342.2 316.48,342.3 317.33,342.4 318.18,342.5 319.04,342.6 319.89,342.69 320.75,342.79 321.61,342.88 322.47,342.97 323.32,343.06 324.18,343.15 325.04,343.23 325.9,343.32 326.76,343.41 327.62,343.49 328.48,343.57 329.35,343.65 330.21,343.73 331.07,343.81 331.93,343.89 332.8,343.96 333.66,344.04 334.53,344.11 335.39,344.18 336.26,344.25 337.13,344.32 337.99,344.39 338.86,344.46 339.73,344.52 340.59,344.59 341.46,344.65 342.33,344.71 343.2,344.77 344.07,344.83 344.94,344.89 345.81,344.95 346.68,345 347.55,345.06 348.42,345.11 349.3,345.16 350.17,345.21 351.04,345.26 351.91,345.31 352.79,345.36 353.66,345.4 354.53,345.45 355.41,345.49 356.28,345.53 357.15,345.57 358.03,345.61 358.9,345.65 359.78,345.69 360.65,345.72 361.53,345.75 362.4,345.79 363.28,345.82 364.16,345.85 365.03,345.88 365.91,345.91 366.79,345.93 367.66,345.96 368.54,345.98 369.42,346.01 370.29,346.03 371.17,346.05 372.05,346.07 372.92,346.09 373.8,346.1 374.68,346.12 375.56,346.13 376.43,346.15 377.31,346.16 378.19,346.17 379.07,346.18 379.94,346.19 380.82,346.19 381.7,346.2 382.58,346.2 383.46,346.21 384.33,346.21 385.21,346.21 386.09,346.21 386.97,346.21 387.84,346.21 388.72,346.2 389.6,346.2 390.48,346.19 391.35,346.18 392.23,346.17 393.11,346.16 393.98,346.15 394.86,346.14 395.74,346.12 396.61,346.11 397.49,346.09 398.37,346.07 399.24,346.05 400.12,346.03 401,346.01 401.87,345.99 402.75,345.96 403.62,345.94 404.5,345.91 405.37,345.88 406.25,345.85 407.12,345.82 407.99,345.79 408.87,345.76 409.74,345.73 410.61,345.69 411.49,345.65 412.36,345.62 413.23,345.58 414.1,345.54 414.98,345.49 415.85,345.45 416.72,345.41 417.59,345.36 418.46,345.31 419.33,345.27 420.2,345.22 421.07,345.17 421.94,345.11 422.81,345.06 423.67,345.01 424.54,344.95 425.41,344.89 426.27,344.84 427.14,344.78 428.01,344.72 428.87,344.65 429.74,344.59 430.6,344.53 431.47,344.46 432.33,344.39 433.19,344.32 434.05,344.25 434.92,344.18 435.78,344.11 436.64,344.04 437.5,343.96 438.36,343.89 439.22,343.81 440.08,343.73 440.93,343.65 441.79,343.57 442.65,343.49 443.51,343.4 444.36,343.32 445.22,343.23 446.07,343.14 446.92,343.05 447.78,342.96 448.63,342.87 449.48,342.78 450.33,342.68 451.18,342.58 452.03,342.49 452.88,342.39 453.73,342.29 454.58,342.19 455.43,342.09 456.27,341.98 457.12,341.88 457.96,341.77 458.81,341.66 459.65,341.55 460.49,341.44 461.33,341.33 462.18,341.22 463.02,341.1 463.85,340.98 464.69,340.87 465.53,340.75 466.37,340.63 467.2,340.51 468.04,340.38 468.87,340.26 469.71,340.13 470.54,340.01 471.37,339.88 472.2,339.75 473.03,339.62 473.86,339.48 474.69,339.35 475.52,339.21 476.34,339.08 477.17,338.94 477.99,338.8 478.82,338.66 479.64,338.51 480.46,338.37 481.28,338.22 482.1,338.08 482.92,337.93 483.74,337.78 484.55,337.63 485.37,337.47 486.18,337.32 487,337.17 487.81,337.01 488.62,336.85 489.43,336.69 490.24,336.53 491.05,336.37 491.86,336.2 492.66,336.03 493.47,335.87 494.27,335.7 495.07,335.53 495.88,335.36 496.68,335.18 497.48,335.01 498.27,334.83 499.07,334.65 499.87,334.47 500.66,334.29 501.46,334.11 502.25,333.93 503.04,333.74 503.83,333.55 504.62,333.37 505.41,333.18 506.19,332.98 506.98,332.79 507.76,332.6 508.54,332.4 509.33,332.2 510.11,332 510.89,331.8 511.66,331.6 512.44,331.39 513.21,331.19 513.99,330.98 514.76,330.77 515.53,330.56 516.3,330.35 517.07,330.13 517.84,329.92 518.6,329.7 519.37,329.48 520.13,329.26 520.89,329.04 521.65,328.81 522.41,328.59 523.17,328.36 523.93,328.13 524.68,327.9 525.43,327.67 526.19,327.43 526.94,327.2 527.69,326.96 528.43,326.72 529.18,326.48 529.92,326.24 530.67,325.99 531.41,325.75 532.15,325.5 532.89,325.25 533.63,325 534.36,324.75 535.1,324.49 535.83,324.23 536.56,323.97 537.29,323.71 538.02,323.45 538.75,323.19 539.47,322.92 540.19,322.65 540.92,322.38 541.64,322.11 542.36,321.84 543.07,321.56 543.79,321.29 544.5,321.01 545.22,320.73 545.93,320.45 546.64,320.16 547.34,319.87 548.05,319.59 548.75,319.29 549.46,319 550.16,318.71 550.86,318.41 551.56,318.11 552.25,317.81 552.95,317.51 553.64,317.21 554.33,316.9 555.02,316.59 555.71,316.28 556.39,315.97 557.08,315.66 557.76,315.34 558.44,315.02 559.12,314.7 559.8,314.38 560.47,314.05 561.15,313.72 561.82,313.4 562.49,313.06 563.16,312.73 563.82,312.4 564.49,312.06 565.15,311.72 565.81,311.38 566.47,311.03 567.13,310.68 567.78,310.34 568.44,309.98 569.09,309.63 569.74,309.28 570.39,308.92 571.03,308.56 571.68,308.2 572.32,307.83 572.96,307.46 573.6,307.09 574.24,306.72 574.87,306.35 575.51,305.97 576.14,305.59 576.77,305.21 577.39,304.83 578.02,304.44 578.64,304.05 579.27,303.66 579.89,303.27 580.5,302.87 581.12,302.47 581.73,302.07 582.34,301.67 582.95,301.26 583.56,300.85 584.17,300.44 584.77,300.02 585.37,299.61 585.97,299.19 586.57,298.77 587.17,298.34 587.76,297.91 588.35,297.48 588.94,297.05 589.53,296.61 590.12,296.17 590.7,295.73 591.28,295.29 591.86,294.84 592.44,294.39 593.01,293.94 593.59,293.48 594.16,293.02 594.73,292.56 595.29,292.1 595.86,291.63 596.42,291.16 596.98,290.68 597.54,290.21 598.1,289.72 598.65,289.24 599.2,288.76 599.75,288.27 600.3,287.77 600.85,287.28 601.39,286.78 601.93,286.28 602.47,285.77 603.01,285.26 603.54,284.75 604.07,284.23 604.6,283.71 605.13,283.19 605.66,282.66 606.18,282.13 606.7,281.6 607.22,281.06 607.74,280.52 608.25,279.98 608.77,279.43 609.28,278.88 609.79,278.33 610.29,277.77 610.79,277.21 611.3,276.64 611.8,276.07 612.29,275.5 612.79,274.92 613.28,274.34 613.77,273.75 614.26,273.16 614.74,272.57 615.22,271.97 615.71,271.37 616.18,270.76 616.66,270.15 617.13,269.53 617.61,268.92 618.07,268.29 618.54,267.66 619.01,267.03 619.47,266.4 619.93,265.76 620.39,265.11 620.84,264.46 621.29,263.8 621.74,263.14 622.19,262.48 622.64,261.81 623.08,261.14 623.52,260.46 623.96,259.77 624.4,259.08 624.83,258.39 625.26,257.69 625.69,256.99 626.12,256.28 626.54,255.56 626.96,254.84 627.38,254.12 627.8,253.39 628.21,252.65 628.62,251.91 629.03,251.16 629.44,250.4 629.85,249.65 630.25,248.88 630.65,248.11 631.04,247.33 631.44,246.55 631.83,245.76 632.22,244.96 632.61,244.16 632.99,243.35 633.38,242.53 633.76,241.71 634.13,240.88 634.51,240.05 634.88,239.21 635.25,238.36 635.62,237.5 635.98,236.64 636.35,235.77 636.71,234.89 637.06,234 637.42,233.11 637.77,232.21 638.12,231.3 638.47,230.39 638.81,229.46 639.16,228.53 639.49,227.59 639.83,226.64 640.17,225.68 640.5,224.72 640.83,223.74 641.16,222.76 641.48,221.76 641.8,220.76 642.12,219.75 642.44,218.73 642.75,217.7 643.06,216.66 643.37,215.61 643.68,214.55 643.98,213.48 644.28,212.4 644.58,211.31 644.88,210.2 645.17,209.09 645.46,207.97 645.75,206.83 646.04,205.68 646.32,204.52 646.6,203.35 646.88,202.17 647.15,200.97 647.43,199.76 647.7,198.54 647.96,197.3 648.23,196.06 648.49,194.79 648.75,193.52 649.01,192.22 649.26,190.92 649.51,189.6 649.76,188.26 650.01,186.91 650.25,185.54 650.49,184.16 650.73,182.76 650.96,181.34 651.2,179.9 651.43,178.45 651.66,176.98 651.88,175.49 652.1,173.98 652.32,172.45 652.54,170.9 652.75,169.33 652.96,167.74 653.17,166.13 653.38,164.5 653.58,162.84 653.78,161.16 653.98,159.45 654.18,157.73 654.37,155.97 654.56,154.19 654.75,152.38 654.93,150.55 655.12,148.68 655.29,146.79 655.47,144.87 655.65,142.91 655.82,140.93 655.99,138.91 656.15,136.85 656.31,134.76 656.47,132.64 656.63,130.48 656.79,128.27 656.94,126.03 657.09,123.74 657.24,121.42 657.38,119.04 657.52,116.62 657.66,114.15 657.8,111.63 657.93,109.06 658.06,106.43 658.19,103.74 658.31,101 658.43,98.19 658.55,95.32 658.67,92.37 658.79,89.36 658.9,86.27 659.01,83.1 659.11,79.85 659.16,78.18" stroke="#EDB120"/>
<polyline points="104.24,102.31 104.29,103.98 104.39,107.23 104.5,110.4 104.61,113.49 104.73,116.5 104.85,119.44 104.97,122.32 105.09,125.12 105.21,127.87 105.34,130.56 105.47,133.19 105.6,135.76 105.74,138.28 105.88,140.75 106.02,143.17 106.16,145.55 106.31,147.87 106.46,150.16 106.61,152.4 106.77,154.61 106.93,156.77 107.09,158.9 107.25,160.99 107.41,163.04 107.58,165.06 107.75,167.05 107.93,169 108.11,170.93 108.28,172.82 108.47,174.68 108.65,176.52 108.84,178.33 109.03,180.11 109.22,181.87 109.42,183.6 109.62,185.3 109.82,186.98 110.02,188.64 110.23,190.28 110.44,191.89 110.65,193.48 110.86,195.05 111.08,196.6 111.3,198.13 111.52,199.64 111.74,201.13 111.97,202.6 112.2,204.06 112.44,205.49 112.67,206.91 112.91,208.31 113.15,209.7 113.39,211.07 113.64,212.42 113.89,213.76 114.14,215.08 114.39,216.39 114.65,217.68 114.91,218.96 115.17,220.22 115.44,221.47 115.7,222.71 115.97,223.93 116.25,225.14 116.52,226.34 116.8,227.53 117.08,228.7 117.36,229.86 117.65,231.01 117.94,232.15 118.23,233.27 118.52,234.39 118.82,235.49 119.12,236.59 119.42,237.67 119.72,238.74 120.03,239.8 120.34,240.85 120.65,241.9 120.96,242.93 121.28,243.95 121.6,244.96 121.92,245.97 122.24,246.96 122.57,247.95 122.9,248.93 123.23,249.89 123.57,250.85 123.91,251.8 124.24,252.75 124.59,253.68 124.93,254.61 125.28,255.53 125.63,256.44 125.98,257.34 126.34,258.24 126.69,259.12 127.05,260 127.42,260.88 127.78,261.74 128.15,262.6 128.52,263.45 128.89,264.3 129.27,265.14 129.64,265.97 130.02,266.79 130.41,267.61 130.79,268.42 131.18,269.23 131.57,270.03 131.96,270.82 132.36,271.61 132.75,272.39 133.15,273.16 133.55,273.93 133.96,274.69 134.37,275.45 134.78,276.2 135.19,276.95 135.6,277.69 136.02,278.42 136.44,279.15 136.86,279.87 137.28,280.59 137.71,281.3 138.14,282.01 138.57,282.71 139,283.41 139.44,284.1 139.88,284.79 140.32,285.47 140.76,286.15 141.21,286.83 141.66,287.49 142.11,288.16 142.56,288.82 143.01,289.47 143.47,290.12 143.93,290.77 144.39,291.41 144.86,292.04 145.33,292.67 145.79,293.3 146.27,293.92 146.74,294.54 147.22,295.16 147.69,295.77 148.18,296.38 148.66,296.98 149.14,297.58 149.63,298.17 150.12,298.76 150.61,299.35 151.11,299.93 151.6,300.51 152.1,301.08 152.61,301.65 153.11,302.22 153.61,302.78 154.12,303.34 154.63,303.9 155.15,304.45 155.66,305 156.18,305.55 156.7,306.09 157.22,306.63 157.74,307.16 158.27,307.69 158.8,308.22 159.33,308.75 159.86,309.27 160.39,309.78 160.93,310.3 161.47,310.81 162.01,311.32 162.55,311.82 163.1,312.33 163.65,312.82 164.2,313.32 164.75,313.81 165.3,314.3 165.86,314.79 166.42,315.27 166.98,315.75 167.54,316.23 168.11,316.7 168.67,317.17 169.24,317.64 169.81,318.1 170.39,318.57 170.96,319.03 171.54,319.48 172.12,319.94 172.7,320.39 173.28,320.84 173.87,321.28 174.46,321.72 175.05,322.16 175.64,322.6 176.23,323.04 176.83,323.47 177.43,323.9 178.03,324.32 178.63,324.75 179.23,325.17 179.84,325.59 180.45,326 181.06,326.42 181.67,326.83 182.28,327.24 182.9,327.64 183.51,328.05 184.13,328.45 184.76,328.85 185.38,329.24 186.01,329.64 186.63,330.03 187.26,330.42 187.89,330.8 188.53,331.19 189.16,331.57 189.8,331.95 190.44,332.32 191.08,332.7 191.72,333.07 192.37,333.44 193.01,333.81 193.66,334.18 194.31,334.54 194.96,334.9 195.62,335.26 196.27,335.62 196.93,335.97 197.59,336.33 198.25,336.68 198.91,337.02 199.58,337.37 200.24,337.71 200.91,338.06 201.58,338.4 202.25,338.73 202.93,339.07 203.6,339.4 204.28,339.73 204.96,340.06 205.64,340.39 206.32,340.72 207.01,341.04 207.69,341.36 208.38,341.68 209.07,342 209.76,342.31 210.45,342.63 211.15,342.94 211.84,343.25 212.54,343.55 213.24,343.86 213.94,344.16 214.65,344.47 215.35,344.77 216.06,345.06 216.76,345.36 217.47,345.65 218.18,345.95 218.9,346.24 219.61,346.53 220.33,346.81 221.04,347.1 221.76,347.38 222.48,347.66 223.21,347.94 223.93,348.22 224.65,348.5 225.38,348.77 226.11,349.04 226.84,349.31 227.57,349.58 228.3,349.85 229.04,350.11 229.77,350.38 230.51,350.64 231.25,350.9 231.99,351.16 232.73,351.41 233.48,351.67 234.22,351.92 234.97,352.17 235.71,352.42 236.46,352.67 237.21,352.92 237.97,353.16 238.72,353.41 239.47,353.65 240.23,353.89 240.99,354.13 241.75,354.36 242.51,354.6 243.27,354.83 244.03,355.06 244.8,355.29 245.56,355.52 246.33,355.75 247.1,355.97 247.87,356.2 248.64,356.42 249.41,356.64 250.19,356.86 250.96,357.08 251.74,357.29 252.51,357.51 253.29,357.72 254.07,357.93 254.86,358.14 255.64,358.35 256.42,358.56 257.21,358.76 257.99,358.96 258.78,359.17 259.57,359.37 260.36,359.57 261.15,359.76 261.94,359.96 262.74,360.15 263.53,360.35 264.33,360.54 265.13,360.73 265.92,360.92 266.72,361.1 267.52,361.29 268.33,361.47 269.13,361.66 269.93,361.84 270.74,362.02 271.54,362.2 272.35,362.37 273.16,362.55 273.97,362.72 274.78,362.9 275.59,363.07 276.4,363.24 277.22,363.4 278.03,363.57 278.85,363.74 279.66,363.9 280.48,364.06 281.3,364.23 282.12,364.38 282.94,364.54 283.76,364.7 284.58,364.86 285.41,365.01 286.23,365.16 287.06,365.31 287.88,365.46 288.71,365.61 289.54,365.76 290.37,365.91 291.2,366.05 292.03,366.19 292.86,366.34 293.69,366.48 294.53,366.62 295.36,366.75 296.2,366.89 297.03,367.03 297.87,367.16 298.71,367.29 299.55,367.42 300.38,367.55 301.22,367.68 302.07,367.81 302.91,367.93 303.75,368.06 304.59,368.18 305.44,368.3 306.28,368.42 307.13,368.54 307.97,368.66 308.82,368.78 309.67,368.89 310.52,369.01 311.37,369.12 312.22,369.23 313.07,369.34 313.92,369.45 314.77,369.55 315.62,369.66 316.48,369.77 317.33,369.87 318.18,369.97 319.04,370.07 319.89,370.17 320.75,370.27 321.61,370.37 322.47,370.46 323.32,370.56 324.18,370.65 325.04,370.74 325.9,370.83 326.76,370.92 327.62,371.01 328.48,371.1 329.35,371.18 330.21,371.27 331.07,371.35 331.93,371.43 332.8,371.51 333.66,371.59 334.53,371.67 335.39,371.74 336.26,371.82 337.13,371.89 337.99,371.97 338.86,372.04 339.73,372.11 340.59,372.18 341.46,372.24 342.33,372.31 343.2,372.38 344.07,372.44 344.94,372.5 345.81,372.56 346.68,372.62 347.55,372.68 348.42,372.74 349.3,372.8 350.17,372.85 351.04,372.91 351.91,372.96 352.79,373.01 353.66,373.06 354.53,373.11 355.41,373.16 356.28,373.2 357.15,373.25 358.03,373.29 358.9,373.33 359.78,373.38 360.65,373.42 361.53,373.46 362.4,373.49 363.28,373.53 364.16,373.56 365.03,373.6 365.91,373.63 366.79,373.66 367.66,373.69 368.54,373.72 369.42,373.75 370.29,373.78 371.17,373.8 372.05,373.83 372.92,373.85 373.8,373.87 374.68,373.89 375.56,373.91 376.43,373.93 377.31,373.94 378.19,373.96 379.07,373.97 379.94,373.99 380.82,374 381.7,374.01 382.58,374.02 383.46,374.03 384.33,374.03 385.21,374.04 386.09,374.04 386.97,374.05 387.84,374.05 388.72,374.05 389.6,374.05 390.48,374.05 391.35,374.04 392.23,374.04 393.11,374.03 393.98,374.03 394.86,374.02 395.74,374.01 396.61,374 397.49,373.99 398.37,373.97 399.24,373.96 400.12,373.94 401,373.93 401.87,373.91 402.75,373.89 403.62,373.87 404.5,373.85 405.37,373.82 406.25,373.8 407.12,373.77 407.99,373.75 408.87,373.72 409.74,373.69 410.61,373.66 411.49,373.63 412.36,373.59 413.23,373.56 414.1,373.52 414.98,373.49 415.85,373.45 416.72,373.41 417.59,373.37 418.46,373.33 419.33,373.28 420.2,373.24 421.07,373.19 421.94,373.14 422.81,373.1 423.67,373.05 424.54,373 425.41,372.94 426.27,372.89 427.14,372.84 428.01,372.78 428.87,372.72 429.74,372.66 430.6,372.6 431.47,372.54 432.33,372.48 433.19,372.42 434.05,372.35 434.92,372.28 435.78,372.22 436.64,372.15 437.5,372.08 438.36,372.01 439.22,371.93 440.08,371.86 440.93,371.78 441.79,371.71 442.65,371.63 443.51,371.55 444.36,371.47 445.22,371.39 446.07,371.3 446.92,371.22 447.78,371.13 448.63,371.04 449.48,370.96 450.33,370.87 451.18,370.77 452.03,370.68 452.88,370.59 453.73,370.49 454.58,370.4 455.43,370.3 456.27,370.2 457.12,370.1 457.96,370 458.81,369.89 459.65,369.79 460.49,369.68 461.33,369.57 462.18,369.46 463.02,369.35 463.85,369.24 464.69,369.13 465.53,369.02 466.37,368.9 467.2,368.78 468.04,368.66 468.87,368.54 469.71,368.42 470.54,368.3 471.37,368.18 472.2,368.05 473.03,367.92 473.86,367.79 474.69,367.66 475.52,367.53 476.34,367.4 477.17,367.27 477.99,367.13 478.82,366.99 479.64,366.86 480.46,366.72 481.28,366.58 482.1,366.43 482.92,366.29 483.74,366.14 484.55,366 485.37,365.85 486.18,365.7 487,365.55 487.81,365.39 488.62,365.24 489.43,365.08 490.24,364.93 491.05,364.77 491.86,364.61 492.66,364.45 493.47,364.28 494.27,364.12 495.07,363.95 495.88,363.78 496.68,363.62 497.48,363.44 498.27,363.27 499.07,363.1 499.87,362.92 500.66,362.75 501.46,362.57 502.25,362.39 503.04,362.21 503.83,362.02 504.62,361.84 505.41,361.65 506.19,361.46 506.98,361.28 507.76,361.08 508.54,360.89 509.33,360.7 510.11,360.5 510.89,360.31 511.66,360.11 512.44,359.91 513.21,359.7 513.99,359.5 514.76,359.3 515.53,359.09 516.3,358.88 517.07,358.67 517.84,358.46 518.6,358.24 519.37,358.03 520.13,357.81 520.89,357.59 521.65,357.37 522.41,357.15 523.17,356.93 523.93,356.7 524.68,356.48 525.43,356.25 526.19,356.02 526.94,355.78 527.69,355.55 528.43,355.32 529.18,355.08 529.92,354.84 530.67,354.6 531.41,354.36 532.15,354.11 532.89,353.86 533.63,353.62 534.36,353.37 535.1,353.12 535.83,352.86 536.56,352.61 537.29,352.35 538.02,352.09 538.75,351.83 539.47,351.57 540.19,351.3 540.92,351.04 541.64,350.77 542.36,350.5 543.07,350.23 543.79,349.95 544.5,349.68 545.22,349.4 545.93,349.12 546.64,348.84 547.34,348.56 548.05,348.27 548.75,347.99 549.46,347.7 550.16,347.41 550.86,347.11 551.56,346.82 552.25,346.52 552.95,346.22 553.64,345.92 554.33,345.62 555.02,345.31 555.71,345 556.39,344.7 557.08,344.38 557.76,344.07 558.44,343.75 559.12,343.44 559.8,343.12 560.47,342.8 561.15,342.47 561.82,342.15 562.49,341.82 563.16,341.49 563.82,341.15 564.49,340.82 565.15,340.48 565.81,340.14 566.47,339.8 567.13,339.46 567.78,339.11 568.44,338.76 569.09,338.41 569.74,338.06 570.39,337.71 571.03,337.35 571.68,336.99 572.32,336.63 572.96,336.26 573.6,335.9 574.24,335.53 574.87,335.16 575.51,334.78 576.14,334.4 576.77,334.03 577.39,333.64 578.02,333.26 578.64,332.87 579.27,332.49 579.89,332.09 580.5,331.7 581.12,331.3 581.73,330.91 582.34,330.5 582.95,330.1 583.56,329.69 584.17,329.28 584.77,328.87 585.37,328.46 585.97,328.04 586.57,327.62 587.17,327.2 587.76,326.77 588.35,326.34 588.94,325.91 589.53,325.48 590.12,325.04 590.7,324.6 591.28,324.16 591.86,323.72 592.44,323.27 593.01,322.82 593.59,322.36 594.16,321.91 594.73,321.45 595.29,320.98 595.86,320.52 596.42,320.05 596.98,319.58 597.54,319.1 598.1,318.62 598.65,318.14 599.2,317.66 599.75,317.17 600.3,316.68 600.85,316.19 601.39,315.69 601.93,315.19 602.47,314.69 603.01,314.18 603.54,313.67 604.07,313.15 604.6,312.64 605.13,312.12 605.66,311.59 606.18,311.06 606.7,310.53 607.22,310 607.74,309.46 608.25,308.92 608.77,308.37 609.28,307.82 609.79,307.27 610.29,306.71 610.79,306.15 611.3,305.59 611.8,305.02 612.29,304.45 612.79,303.87 613.28,303.29 613.77,302.7 614.26,302.12 614.74,301.52 615.22,300.93 615.71,300.33 616.18,299.72 616.66,299.11 617.13,298.5 617.61,297.88 618.07,297.26 618.54,296.64 619.01,296 619.47,295.37 619.93,294.73 620.39,294.09 620.84,293.44 621.29,292.78 621.74,292.12 622.19,291.46 622.64,290.79 623.08,290.12 623.52,289.44 623.96,288.76 624.4,288.07 624.83,287.38 625.26,286.68 625.69,285.98 626.12,285.27 626.54,284.56 626.96,283.84 627.38,283.11 627.8,282.38 628.21,281.65 628.62,280.91 629.03,280.16 629.44,279.41 629.85,278.65 630.25,277.88 630.65,277.11 631.04,276.34 631.44,275.56 631.83,274.77 632.22,273.97 632.61,273.17 632.99,272.36 633.38,271.55 633.76,270.73 634.13,269.9 634.51,269.07 634.88,268.22 635.25,267.38 635.62,266.52 635.98,265.66 636.35,264.79 636.71,263.91 637.06,263.03 637.42,262.13 637.77,261.23 638.12,260.33 638.47,259.41 638.81,258.49 639.16,257.56 639.49,256.62 639.83,255.67 640.17,254.71 640.5,253.75 640.83,252.77 641.16,251.79 641.48,250.8 641.8,249.8 642.12,248.79 642.44,247.77 642.75,246.74 643.06,245.7 643.37,244.65 643.68,243.59 643.98,242.52 644.28,241.44 644.58,240.35 644.88,239.24 645.17,238.13 645.46,237.01 645.75,235.87 646.04,234.72 646.32,233.57 646.6,232.39 646.88,231.21 647.15,230.02 647.43,228.81 647.7,227.58 647.96,226.35 648.23,225.1 648.49,223.84 648.75,222.56 649.01,221.27 649.26,219.97 649.51,218.65 649.76,217.31 650.01,215.96 650.25,214.59 650.49,213.21 650.73,211.81 650.96,210.39 651.2,208.96 651.43,207.5 651.66,206.03 651.88,204.54 652.1,203.03 652.32,201.5 652.54,199.96 652.75,198.39 652.96,196.8 653.17,195.19 653.38,193.55 653.58,191.89 653.78,190.21 653.98,188.51 654.18,186.78 654.37,185.03 654.56,183.25 654.75,181.44 654.93,179.6 655.12,177.74 655.29,175.85 655.47,173.92 655.65,171.97 655.82,169.98 655.99,167.96 656.15,165.91 656.31,163.82 656.47,161.7 656.63,159.53 656.79,157.33 656.94,155.09 657.09,152.8 657.24,150.47 657.38,148.1 657.52,145.68 657.66,143.21 657.8,140.69 657.93,138.12 658.06,135.49 658.19,132.8 658.31,130.06 658.43,127.25 658.55,124.38 658.67,121.43 658.79,118.42 658.9,115.33 659.01,112.16 659.11,108.91 659.16,107.24" stroke="#7E2F8E"/>
<polyline points="104.24,126.95 104.29,128.62 104.39,131.87 104.5,135.04 104.61,138.13 104.73,141.15 104.85,144.09 104.97,146.96 105.09,149.77 105.21,152.52 105.34,155.2 105.47,157.83 105.6,160.41 105.74,162.93 105.88,165.4 106.02,167.82 106.16,170.19 106.31,172.52 106.46,174.81 106.61,177.05 106.77,179.26 106.93,181.42 107.09,183.55 107.25,185.64 107.41,187.69 107.58,189.71 107.75,191.7 107.93,193.65 108.11,195.58 108.28,197.47 108.47,199.34 108.65,201.17 108.84,202.98 109.03,204.76 109.22,206.52 109.42,208.25 109.62,209.95 109.82,211.64 110.02,213.29 110.23,214.93 110.44,216.54 110.65,218.13 110.86,219.71 111.08,221.26 111.3,222.79 111.52,224.3 111.74,225.79 111.97,227.26 112.2,228.72 112.44,230.15 112.67,231.57 112.91,232.97 113.15,234.36 113.39,235.73 113.64,237.08 113.89,238.42 114.14,239.74 114.39,241.05 114.65,242.34 114.91,243.62 115.17,244.89 115.44,246.14 115.7,247.38 115.97,248.6 116.25,249.81 116.52,251.01 116.8,252.2 117.08,253.37 117.36,254.53 117.65,255.68 117.94,256.82 118.23,257.95 118.52,259.06 118.82,260.17 119.12,261.26 119.42,262.35 119.72,263.42 120.03,264.48 120.34,265.53 120.65,266.58 120.96,267.61 121.28,268.63 121.6,269.65 121.92,270.65 122.24,271.65 122.57,272.64 122.9,273.61 123.23,274.58 123.57,275.54 123.91,276.5 124.24,277.44 124.59,278.38 124.93,279.3 125.28,280.22 125.63,281.14 125.98,282.04 126.34,282.94 126.69,283.82 127.05,284.71 127.42,285.58 127.78,286.45 128.15,287.31 128.52,288.16 128.89,289.01 129.27,289.85 129.64,290.68 130.02,291.51 130.41,292.33 130.79,293.14 131.18,293.95 131.57,294.75 131.96,295.54 132.36,296.33 132.75,297.11 133.15,297.89 133.55,298.66 133.96,299.42 134.37,300.18 134.78,300.93 135.19,301.68 135.6,302.42 136.02,303.16 136.44,303.89 136.86,304.61 137.28,305.33 137.71,306.05 138.14,306.76 138.57,307.46 139,308.16 139.44,308.86 139.88,309.54 140.32,310.23 140.76,310.91 141.21,311.58 141.66,312.25 142.11,312.92 142.56,313.58 143.01,314.24 143.47,314.89 143.93,315.54 144.39,316.18 144.86,316.82 145.33,317.45 145.79,318.08 146.27,318.71 146.74,319.33 147.22,319.94 147.69,320.56 148.18,321.17 148.66,321.77 149.14,322.37 149.63,322.97 150.12,323.56 150.61,324.15 151.11,324.73 151.6,325.31 152.1,325.89 152.61,326.46 153.11,327.03 153.61,327.6 154.12,328.16 154.63,328.72 155.15,329.28 155.66,329.83 156.18,330.38 156.7,330.92 157.22,331.46 157.74,332 158.27,332.53 158.8,333.06 159.33,333.59 159.86,334.12 160.39,334.64 160.93,335.15 161.47,335.67 162.01,336.18 162.55,336.69 163.1,337.19 163.65,337.69 164.2,338.19 164.75,338.69 165.3,339.18 165.86,339.67 166.42,340.15 166.98,340.64 167.54,341.12 168.11,341.59 168.67,342.07 169.24,342.54 169.81,343.01 170.39,343.47 170.96,343.94 171.54,344.4 172.12,344.85 172.7,345.31 173.28,345.76 173.87,346.21 174.46,346.65 175.05,347.1 175.64,347.54 176.23,347.97 176.83,348.41 177.43,348.84 178.03,349.27 178.63,349.7 179.23,350.13 179.84,350.55 180.45,350.97 181.06,351.38 181.67,351.8 182.28,352.21 182.9,352.62 183.51,353.03 184.13,353.43 184.76,353.84 185.38,354.24 186.01,354.63 186.63,355.03 187.26,355.42 187.89,355.81 188.53,356.2 189.16,356.59 189.8,356.97 190.44,357.35 191.08,357.73 191.72,358.11 192.37,358.48 193.01,358.85 193.66,359.22 194.31,359.59 194.96,359.96 195.62,360.32 196.27,360.68 196.93,361.04 197.59,361.4 198.25,361.75 198.91,362.11 199.58,362.46 200.24,362.81 200.91,363.15 201.58,363.5 202.25,363.84 202.93,364.18 203.6,364.52 204.28,364.85 204.96,365.19 205.64,365.52 206.32,365.85 207.01,366.18 207.69,366.5 208.38,366.83 209.07,367.15 209.76,367.47 210.45,367.79 211.15,368.1 211.84,368.42 212.54,368.73 213.24,369.04 213.94,369.35 214.65,369.66 215.35,369.96 216.06,370.26 216.76,370.57 217.47,370.87 218.18,371.16 218.9,371.46 219.61,371.75 220.33,372.04 221.04,372.33 221.76,372.62 222.48,372.91 223.21,373.19 223.93,373.48 224.65,373.76 225.38,374.04 226.11,374.32 226.84,374.59 227.57,374.87 228.3,375.14 229.04,375.41 229.77,375.68 230.51,375.95 231.25,376.21 231.99,376.48 232.73,376.74 233.48,377 234.22,377.26 234.97,377.52 235.71,377.77 236.46,378.02 237.21,378.28 237.97,378.53 238.72,378.78 239.47,379.02 240.23,379.27 240.99,379.51 241.75,379.76 242.51,380 243.27,380.24 244.03,380.47 244.8,380.71 245.56,380.95 246.33,381.18 247.1,381.41 247.87,381.64 248.64,381.87 249.41,382.1 250.19,382.32 250.96,382.54 251.74,382.77 252.51,382.99 253.29,383.21 254.07,383.42 254.86,383.64 255.64,383.85 256.42,384.07 257.21,384.28 257.99,384.49 258.78,384.7 259.57,384.9 260.36,385.11 261.15,385.31 261.94,385.52 262.74,385.72 263.53,385.92 264.33,386.11 265.13,386.31 265.92,386.51 266.72,386.7 267.52,386.89 268.33,387.08 269.13,387.27 269.93,387.46 270.74,387.65 271.54,387.83 272.35,388.02 273.16,388.2 273.97,388.38 274.78,388.56 275.59,388.74 276.4,388.91 277.22,389.09 278.03,389.26 278.85,389.44 279.66,389.61 280.48,389.78 281.3,389.94 282.12,390.11 282.94,390.28 283.76,390.44 284.58,390.6 285.41,390.77 286.23,390.93 287.06,391.08 287.88,391.24 288.71,391.4 289.54,391.55 290.37,391.71 291.2,391.86 292.03,392.01 292.86,392.16 293.69,392.31 294.53,392.45 295.36,392.6 296.2,392.74 297.03,392.88 297.87,393.02 298.71,393.16 299.55,393.3 300.38,393.44 301.22,393.58 302.07,393.71 302.91,393.84 303.75,393.98 304.59,394.11 305.44,394.24 306.28,394.36 307.13,394.49 307.97,394.62 308.82,394.74 309.67,394.86 310.52,394.99 311.37,395.11 312.22,395.22 313.07,395.34 313.92,395.46 314.77,395.57 315.62,395.69 316.48,395.8 317.33,395.91 318.18,396.02 319.04,396.13 319.89,396.24 320.75,396.34 321.61,396.45 322.47,396.55 323.32,396.66 324.18,396.76 325.04,396.86 325.9,396.95 326.76,397.05 327.62,397.15 328.48,397.24 329.35,397.34 330.21,397.43 331.07,397.52 331.93,397.61 332.8,397.7 333.66,397.79 334.53,397.87 335.39,397.96 336.26,398.04 337.13,398.12 337.99,398.2 338.86,398.28 339.73,398.36 340.59,398.44 341.46,398.51 342.33,398.59 343.2,398.66 344.07,398.73 344.94,398.81 345.81,398.88 346.68,398.94 347.55,399.01 348.42,399.08 349.3,399.14 350.17,399.21 351.04,399.27 351.91,399.33 352.79,399.39 353.66,399.45 354.53,399.51 355.41,399.56 356.28,399.62 357.15,399.67 358.03,399.72 358.9,399.77 359.78,399.82 360.65,399.87 361.53,399.92 362.4,399.97 363.28,400.01 364.16,400.06 365.03,400.1 365.91,400.14 366.79,400.18 367.66,400.22 368.54,400.26 369.42,400.29 370.29,400.33 371.17,400.36 372.05,400.4 372.92,400.43 373.8,400.46 374.68,400.49 375.56,400.51 376.43,400.54 377.31,400.57 378.19,400.59 379.07,400.61 379.94,400.63 380.82,400.66 381.7,400.67 382.58,400.69 383.46,400.71 384.33,400.73 385.21,400.74 386.09,400.75 386.97,400.76 387.84,400.77 388.72,400.78 389.6,400.79 390.48,400.8 391.35,400.81 392.23,400.81 393.11,400.81 393.98,400.81 394.86,400.82 395.74,400.81 396.61,400.81 397.49,400.81 398.37,400.81 399.24,400.8 400.12,400.79 401,400.79 401.87,400.78 402.75,400.77 403.62,400.75 404.5,400.74 405.37,400.73 406.25,400.71 407.12,400.69 407.99,400.68 408.87,400.66 409.74,400.64 410.61,400.61 411.49,400.59 412.36,400.57 413.23,400.54 414.1,400.52 414.98,400.49 415.85,400.46 416.72,400.43 417.59,400.4 418.46,400.36 419.33,400.33 420.2,400.29 421.07,400.25 421.94,400.22 422.81,400.18 423.67,400.14 424.54,400.09 425.41,400.05 426.27,400.01 427.14,399.96 428.01,399.91 428.87,399.86 429.74,399.81 430.6,399.76 431.47,399.71 432.33,399.66 433.19,399.6 434.05,399.55 434.92,399.49 435.78,399.43 436.64,399.37 437.5,399.31 438.36,399.25 439.22,399.18 440.08,399.12 440.93,399.05 441.79,398.98 442.65,398.91 443.51,398.84 444.36,398.77 445.22,398.7 446.07,398.62 446.92,398.55 447.78,398.47 448.63,398.39 449.48,398.31 450.33,398.23 451.18,398.15 452.03,398.06 452.88,397.98 453.73,397.89 454.58,397.8 455.43,397.71 456.27,397.62 457.12,397.53 457.96,397.44 458.81,397.34 459.65,397.24 460.49,397.15 461.33,397.05 462.18,396.95 463.02,396.85 463.85,396.74 464.69,396.64 465.53,396.53 466.37,396.42 467.2,396.32 468.04,396.21 468.87,396.09 469.71,395.98 470.54,395.87 471.37,395.75 472.2,395.63 473.03,395.52 473.86,395.4 474.69,395.27 475.52,395.15 476.34,395.03 477.17,394.9 477.99,394.77 478.82,394.65 479.64,394.52 480.46,394.38 481.28,394.25 482.1,394.12 482.92,393.98 483.74,393.84 484.55,393.71 485.37,393.57 486.18,393.42 487,393.28 487.81,393.14 488.62,392.99 489.43,392.84 490.24,392.69 491.05,392.54 491.86,392.39 492.66,392.24 493.47,392.08 494.27,391.93 495.07,391.77 495.88,391.61 496.68,391.45 497.48,391.28 498.27,391.12 499.07,390.95 499.87,390.79 500.66,390.62 501.46,390.45 502.25,390.27 503.04,390.1 503.83,389.93 504.62,389.75 505.41,389.57 506.19,389.39 506.98,389.21 507.76,389.03 508.54,388.84 509.33,388.65 510.11,388.47 510.89,388.28 511.66,388.09 512.44,387.89 513.21,387.7 513.99,387.5 514.76,387.3 515.53,387.1 516.3,386.9 517.07,386.7 517.84,386.5 518.6,386.29 519.37,386.08 520.13,385.87 520.89,385.66 521.65,385.45 522.41,385.23 523.17,385.02 523.93,384.8 524.68,384.58 525.43,384.36 526.19,384.14 526.94,383.91 527.69,383.68 528.43,383.46 529.18,383.23 529.92,382.99 530.67,382.76 531.41,382.52 532.15,382.29 532.89,382.05 533.63,381.81 534.36,381.56 535.1,381.32 535.83,381.07 536.56,380.82 537.29,380.57 538.02,380.32 538.75,380.07 539.47,379.81 540.19,379.56 540.92,379.3 541.64,379.03 542.36,378.77 543.07,378.51 543.79,378.24 544.5,377.97 545.22,377.7 545.93,377.43 546.64,377.15 547.34,376.87 548.05,376.6 548.75,376.31 549.46,376.03 550.16,375.75 550.86,375.46 551.56,375.17 552.25,374.88 552.95,374.59 553.64,374.29 554.33,374 555.02,373.7 555.71,373.4 556.39,373.09 557.08,372.79 557.76,372.48 558.44,372.17 559.12,371.86 559.8,371.55 560.47,371.23 561.15,370.91 561.82,370.59 562.49,370.27 563.16,369.94 563.82,369.62 564.49,369.29 565.15,368.96 565.81,368.62 566.47,368.29 567.13,367.95 567.78,367.61 568.44,367.27 569.09,366.92 569.74,366.57 570.39,366.23 571.03,365.87 571.68,365.52 572.32,365.16 572.96,364.8 573.6,364.44 574.24,364.08 574.87,363.71 575.51,363.34 576.14,362.97 576.77,362.6 577.39,362.22 578.02,361.84 578.64,361.46 579.27,361.08 579.89,360.69 580.5,360.3 581.12,359.91 581.73,359.52 582.34,359.12 582.95,358.72 583.56,358.32 584.17,357.92 584.77,357.51 585.37,357.1 585.97,356.69 586.57,356.27 587.17,355.85 587.76,355.43 588.35,355.01 588.94,354.58 589.53,354.15 590.12,353.72 590.7,353.29 591.28,352.85 591.86,352.41 592.44,351.97 593.01,351.52 593.59,351.07 594.16,350.62 594.73,350.16 595.29,349.7 595.86,349.24 596.42,348.78 596.98,348.31 597.54,347.84 598.1,347.36 598.65,346.89 599.2,346.41 599.75,345.92 600.3,345.44 600.85,344.95 601.39,344.45 601.93,343.96 602.47,343.46 603.01,342.95 603.54,342.45 604.07,341.94 604.6,341.42 605.13,340.91 605.66,340.39 606.18,339.86 606.7,339.33 607.22,338.8 607.74,338.27 608.25,337.73 608.77,337.19 609.28,336.64 609.79,336.09 610.29,335.54 610.79,334.98 611.3,334.42 611.8,333.85 612.29,333.29 612.79,332.71 613.28,332.14 613.77,331.55 614.26,330.97 614.74,330.38 615.22,329.79 615.71,329.19 616.18,328.59 616.66,327.98 617.13,327.37 617.61,326.76 618.07,326.14 618.54,325.52 619.01,324.89 619.47,324.26 619.93,323.62 620.39,322.98 620.84,322.33 621.29,321.68 621.74,321.02 622.19,320.36 622.64,319.7 623.08,319.03 623.52,318.35 623.96,317.67 624.4,316.99 624.83,316.3 625.26,315.6 625.69,314.9 626.12,314.2 626.54,313.49 626.96,312.77 627.38,312.05 627.8,311.32 628.21,310.59 628.62,309.85 629.03,309.1 629.44,308.35 629.85,307.6 630.25,306.83 630.65,306.06 631.04,305.29 631.44,304.51 631.83,303.72 632.22,302.93 632.61,302.13 632.99,301.33 633.38,300.51 633.76,299.69 634.13,298.87 634.51,298.04 634.88,297.2 635.25,296.35 635.62,295.5 635.98,294.64 636.35,293.77 636.71,292.89 637.06,292.01 637.42,291.12 637.77,290.22 638.12,289.32 638.47,288.4 638.81,287.48 639.16,286.55 639.49,285.61 639.83,284.66 640.17,283.71 640.5,282.75 640.83,281.77 641.16,280.79 641.48,279.8 641.8,278.8 642.12,277.79 642.44,276.77 642.75,275.74 643.06,274.71 643.37,273.66 643.68,272.6 643.98,271.53 644.28,270.45 644.58,269.36 644.88,268.26 645.17,267.15 645.46,266.03 645.75,264.89 646.04,263.75 646.32,262.59 646.6,261.42 646.88,260.24 647.15,259.04 647.43,257.83 647.7,256.61 647.96,255.38 648.23,254.13 648.49,252.87 648.75,251.59 649.01,250.31 649.26,249 649.51,247.68 649.76,246.35 650.01,245 650.25,243.63 650.49,242.25 650.73,240.85 650.96,239.43 651.2,238 651.43,236.54 651.66,235.07 651.88,233.58 652.1,232.08 652.32,230.55 652.54,229 652.75,227.43 652.96,225.84 653.17,224.23 653.38,222.6 653.58,220.94 653.78,219.26 653.98,217.56 654.18,215.83 654.37,214.08 654.56,212.3 654.75,210.49 654.93,208.65 655.12,206.79 655.29,204.9 655.47,202.98 655.65,201.02 655.82,199.04 655.99,197.02 656.15,194.97 656.31,192.88 656.47,190.75 656.63,188.59 656.79,186.39 656.94,184.14 657.09,181.86 657.24,179.53 657.38,177.16 657.52,174.74 657.66,172.27 657.8,169.75 657.93,167.17 658.06,164.55 658.19,161.86 658.31,159.12 658.43,156.31 658.55,153.43 658.67,150.49 658.79,147.48 658.9,144.39 659.01,141.22 659.11,137.97 659.16,136.3" stroke="#77AC30"/>
<polyline points="104.24,148.37 104.29,150.04 104.39,153.29 104.5,156.46 104.61,159.55 104.73,162.57 104.85,165.51 104.97,168.38 105.09,171.19 105.21,173.94 105.34,176.62 105.47,179.25 105.6,181.83 105.74,184.35 105.88,186.82 106.02,189.24 106.16,191.62 106.31,193.95 106.46,196.23 106.61,198.48 106.77,200.68 106.93,202.84 107.09,204.97 107.25,207.06 107.41,209.12 107.58,211.14 107.75,213.12 107.93,215.08 108.11,217 108.28,218.9 108.47,220.76 108.65,222.6 108.84,224.41 109.03,226.19 109.22,227.95 109.42,229.68 109.62,231.39 109.82,233.07 110.02,234.73 110.23,236.36 110.44,237.98 110.65,239.57 110.86,241.14 111.08,242.69 111.3,244.22 111.52,245.73 111.74,247.23 111.97,248.7 112.2,250.15 112.44,251.59 112.67,253.01 112.91,254.42 113.15,255.8 113.39,257.17 113.64,258.53 113.89,259.87 114.14,261.19 114.39,262.5 114.65,263.79 114.91,265.07 115.17,266.34 115.44,267.59 115.7,268.83 115.97,270.05 116.25,271.27 116.52,272.47 116.8,273.65 117.08,274.83 117.36,275.99 117.65,277.14 117.94,278.28 118.23,279.41 118.52,280.53 118.82,281.63 119.12,282.73 119.42,283.81 119.72,284.89 120.03,285.95 120.34,287.01 120.65,288.05 120.96,289.09 121.28,290.11 121.6,291.13 121.92,292.13 122.24,293.13 122.57,294.12 122.9,295.1 123.23,296.07 123.57,297.03 123.91,297.99 124.24,298.93 124.59,299.87 124.93,300.8 125.28,301.72 125.63,302.63 125.98,303.54 126.34,304.44 126.69,305.33 127.05,306.21 127.42,307.09 127.78,307.96 128.15,308.82 128.52,309.67 128.89,310.52 129.27,311.36 129.64,312.2 130.02,313.03 130.41,313.85 130.79,314.66 131.18,315.47 131.57,316.28 131.96,317.07 132.36,317.86 132.75,318.65 133.15,319.42 133.55,320.2 133.96,320.96 134.37,321.72 134.78,322.48 135.19,323.23 135.6,323.97 136.02,324.71 136.44,325.45 136.86,326.17 137.28,326.9 137.71,327.61 138.14,328.33 138.57,329.03 139,329.74 139.44,330.43 139.88,331.13 140.32,331.81 140.76,332.5 141.21,333.17 141.66,333.85 142.11,334.51 142.56,335.18 143.01,335.84 143.47,336.49 143.93,337.14 144.39,337.79 144.86,338.43 145.33,339.07 145.79,339.7 146.27,340.33 146.74,340.95 147.22,341.57 147.69,342.19 148.18,342.8 148.66,343.41 149.14,344.01 149.63,344.61 150.12,345.21 150.61,345.8 151.11,346.39 151.6,346.98 152.1,347.56 152.61,348.13 153.11,348.71 153.61,349.28 154.12,349.84 154.63,350.41 155.15,350.97 155.66,351.52 156.18,352.07 156.7,352.62 157.22,353.17 157.74,353.71 158.27,354.25 158.8,354.78 159.33,355.31 159.86,355.84 160.39,356.37 160.93,356.89 161.47,357.41 162.01,357.92 162.55,358.43 163.1,358.94 163.65,359.45 164.2,359.95 164.75,360.45 165.3,360.95 165.86,361.44 166.42,361.93 166.98,362.42 167.54,362.91 168.11,363.39 168.67,363.87 169.24,364.34 169.81,364.82 170.39,365.29 170.96,365.75 171.54,366.22 172.12,366.68 172.7,367.14 173.28,367.6 173.87,368.05 174.46,368.5 175.05,368.95 175.64,369.4 176.23,369.84 176.83,370.28 177.43,370.72 178.03,371.15 178.63,371.59 179.23,372.02 179.84,372.45 180.45,372.87 181.06,373.29 181.67,373.71 182.28,374.13 182.9,374.55 183.51,374.96 184.13,375.37 184.76,375.78 185.38,376.19 186.01,376.59 186.63,376.99 187.26,377.39 187.89,377.79 188.53,378.18 189.16,378.57 189.8,378.96 190.44,379.35 191.08,379.74 191.72,380.12 192.37,380.5 193.01,380.88 193.66,381.25 194.31,381.63 194.96,382 195.62,382.37 196.27,382.74 196.93,383.11 197.59,383.47 198.25,383.83 198.91,384.19 199.58,384.55 200.24,384.9 200.91,385.26 201.58,385.61 202.25,385.96 202.93,386.3 203.6,386.65 204.28,386.99 204.96,387.33 205.64,387.67 206.32,388.01 207.01,388.35 207.69,388.68 208.38,389.01 209.07,389.34 209.76,389.67 210.45,389.99 211.15,390.32 211.84,390.64 212.54,390.96 213.24,391.28 213.94,391.59 214.65,391.91 215.35,392.22 216.06,392.53 216.76,392.84 217.47,393.15 218.18,393.45 218.9,393.76 219.61,394.06 220.33,394.36 221.04,394.66 221.76,394.95 222.48,395.25 223.21,395.54 223.93,395.83 224.65,396.12 225.38,396.41 226.11,396.7 226.84,396.98 227.57,397.26 228.3,397.55 229.04,397.82 229.77,398.1 230.51,398.38 231.25,398.65 231.99,398.93 232.73,399.2 233.48,399.47 234.22,399.73 234.97,400 235.71,400.26 236.46,400.53 237.21,400.79 237.97,401.05 238.72,401.31 239.47,401.56 240.23,401.82 240.99,402.07 241.75,402.32 242.51,402.57 243.27,402.82 244.03,403.07 244.8,403.32 245.56,403.56 246.33,403.8 247.1,404.04 247.87,404.28 248.64,404.52 249.41,404.76 250.19,404.99 250.96,405.23 251.74,405.46 252.51,405.69 253.29,405.92 254.07,406.14 254.86,406.37 255.64,406.6 256.42,406.82 257.21,407.04 257.99,407.26 258.78,407.48 259.57,407.7 260.36,407.91 261.15,408.13 261.94,408.34 262.74,408.55 263.53,408.76 264.33,408.97 265.13,409.18 265.92,409.38 266.72,409.59 267.52,409.79 268.33,409.99 269.13,410.19 269.93,410.39 270.74,410.59 271.54,410.78 272.35,410.98 273.16,411.17 273.97,411.36 274.78,411.55 275.59,411.74 276.4,411.93 277.22,412.12 278.03,412.3 278.85,412.49 279.66,412.67 280.48,412.85 281.3,413.03 282.12,413.21 282.94,413.38 283.76,413.56 284.58,413.73 285.41,413.91 286.23,414.08 287.06,414.25 287.88,414.42 288.71,414.59 289.54,414.75 290.37,414.92 291.2,415.08 292.03,415.24 292.86,415.4 293.69,415.56 294.53,415.72 295.36,415.88 296.2,416.04 297.03,416.19 297.87,416.34 298.71,416.5 299.55,416.65 300.38,416.8 301.22,416.94 302.07,417.09 302.91,417.24 303.75,417.38 304.59,417.52 305.44,417.67 306.28,417.81 307.13,417.95 307.97,418.08 308.82,418.22 309.67,418.36 310.52,418.49 311.37,418.62 312.22,418.76 313.07,418.89 313.92,419.01 314.77,419.14 315.62,419.27 316.48,419.39 317.33,419.52 318.18,419.64 319.04,419.76 319.89,419.88 320.75,420 321.61,420.12 322.47,420.24 323.32,420.35 324.18,420.47 325.04,420.58 325.9,420.69 326.76,420.8 327.62,420.91 328.48,421.02 329.35,421.13 330.21,421.23 331.07,421.34 331.93,421.44 332.8,421.54 333.66,421.64 334.53,421.74 335.39,421.84 336.26,421.94 337.13,422.03 337.99,422.13 338.86,422.22 339.73,422.32 340.59,422.41 341.46,422.5 342.33,422.58 343.2,422.67 344.07,422.76 344.94,422.84 345.81,422.93 346.68,423.01 347.55,423.09 348.42,423.17 349.3,423.25 350.17,423.33 351.04,423.4 351.91,423.48 352.79,423.55 353.66,423.63 354.53,423.7 355.41,423.77 356.28,423.84 357.15,423.91 358.03,423.97 358.9,424.04 359.78,424.1 360.65,424.17 361.53,424.23 362.4,424.29 363.28,424.35 364.16,424.41 365.03,424.46 365.91,424.52 366.79,424.57 367.66,424.63 368.54,424.68 369.42,424.73 370.29,424.78 371.17,424.83 372.05,424.88 372.92,424.92 373.8,424.97 374.68,425.01 375.56,425.05 376.43,425.1 377.31,425.14 378.19,425.17 379.07,425.21 379.94,425.25 380.82,425.28 381.7,425.32 382.58,425.35 383.46,425.38 384.33,425.41 385.21,425.44 386.09,425.47 386.97,425.5 387.84,425.52 388.72,425.55 389.6,425.57 390.48,425.59 391.35,425.61 392.23,425.63 393.11,425.65 393.98,425.67 394.86,425.68 395.74,425.7 396.61,425.71 397.49,425.73 398.37,425.74 399.24,425.75 400.12,425.75 401,425.76 401.87,425.77 402.75,425.77 403.62,425.78 404.5,425.78 405.37,425.78 406.25,425.78 407.12,425.78 407.99,425.77 408.87,425.77 409.74,425.77 410.61,425.76 411.49,425.75 412.36,425.74 413.23,425.73 414.1,425.72 414.98,425.71 415.85,425.69 416.72,425.68 417.59,425.66 418.46,425.65 419.33,425.63 420.2,425.61 421.07,425.58 421.94,425.56 422.81,425.54 423.67,425.51 424.54,425.49 425.41,425.46 426.27,425.43 427.14,425.4 428.01,425.37 428.87,425.33 429.74,425.3 430.6,425.26 431.47,425.23 432.33,425.19 433.19,425.15 434.05,425.11 434.92,425.07 435.78,425.02 436.64,424.98 437.5,424.93 438.36,424.89 439.22,424.84 440.08,424.79 440.93,424.74 441.79,424.68 442.65,424.63 443.51,424.57 444.36,424.52 445.22,424.46 446.07,424.4 446.92,424.34 447.78,424.28 448.63,424.21 449.48,424.15 450.33,424.08 451.18,424.02 452.03,423.95 452.88,423.88 453.73,423.81 454.58,423.73 455.43,423.66 456.27,423.59 457.12,423.51 457.96,423.43 458.81,423.35 459.65,423.27 460.49,423.19 461.33,423.1 462.18,423.02 463.02,422.93 463.85,422.85 464.69,422.76 465.53,422.67 466.37,422.57 467.2,422.48 468.04,422.39 468.87,422.29 469.71,422.19 470.54,422.09 471.37,421.99 472.2,421.89 473.03,421.79 473.86,421.68 474.69,421.58 475.52,421.47 476.34,421.36 477.17,421.25 477.99,421.14 478.82,421.02 479.64,420.91 480.46,420.79 481.28,420.67 482.1,420.55 482.92,420.43 483.74,420.31 484.55,420.19 485.37,420.06 486.18,419.94 487,419.81 487.81,419.68 488.62,419.55 489.43,419.41 490.24,419.28 491.05,419.14 491.86,419.01 492.66,418.87 493.47,418.73 494.27,418.58 495.07,418.44 495.88,418.3 496.68,418.15 497.48,418 498.27,417.85 499.07,417.7 499.87,417.55 500.66,417.39 501.46,417.24 502.25,417.08 503.04,416.92 503.83,416.76 504.62,416.6 505.41,416.43 506.19,416.27 506.98,416.1 507.76,415.93 508.54,415.76 509.33,415.59 510.11,415.41 510.89,415.24 511.66,415.06 512.44,414.88 513.21,414.7 513.99,414.52 514.76,414.34 515.53,414.15 516.3,413.96 517.07,413.77 517.84,413.58 518.6,413.39 519.37,413.2 520.13,413 520.89,412.8 521.65,412.61 522.41,412.4 523.17,412.2 523.93,412 524.68,411.79 525.43,411.58 526.19,411.37 526.94,411.16 527.69,410.95 528.43,410.73 529.18,410.52 529.92,410.3 530.67,410.08 531.41,409.85 532.15,409.63 532.89,409.4 533.63,409.18 534.36,408.95 535.1,408.72 535.83,408.48 536.56,408.25 537.29,408.01 538.02,407.77 538.75,407.53 539.47,407.29 540.19,407.04 540.92,406.79 541.64,406.55 542.36,406.29 543.07,406.04 543.79,405.79 544.5,405.53 545.22,405.27 545.93,405.01 546.64,404.75 547.34,404.48 548.05,404.22 548.75,403.95 549.46,403.68 550.16,403.41 550.86,403.13 551.56,402.85 552.25,402.58 552.95,402.29 553.64,402.01 554.33,401.73 555.02,401.44 555.71,401.15 556.39,400.86 557.08,400.56 557.76,400.27 558.44,399.97 559.12,399.67 559.8,399.37 560.47,399.06 561.15,398.76 561.82,398.45 562.49,398.14 563.16,397.82 563.82,397.51 564.49,397.19 565.15,396.87 565.81,396.55 566.47,396.22 567.13,395.89 567.78,395.57 568.44,395.23 569.09,394.9 569.74,394.56 570.39,394.22 571.03,393.88 571.68,393.54 572.32,393.19 572.96,392.84 573.6,392.49 574.24,392.14 574.87,391.78 575.51,391.42 576.14,391.06 576.77,390.7 577.39,390.33 578.02,389.96 578.64,389.59 579.27,389.22 579.89,388.84 580.5,388.46 581.12,388.08 581.73,387.7 582.34,387.31 582.95,386.92 583.56,386.53 584.17,386.13 584.77,385.74 585.37,385.34 585.97,384.93 586.57,384.53 587.17,384.12 587.76,383.71 588.35,383.29 588.94,382.87 589.53,382.45 590.12,382.03 590.7,381.6 591.28,381.18 591.86,380.74 592.44,380.31 593.01,379.87 593.59,379.43 594.16,378.99 594.73,378.54 595.29,378.09 595.86,377.64 596.42,377.18 596.98,376.72 597.54,376.26 598.1,375.79 598.65,375.32 599.2,374.85 599.75,374.37 600.3,373.89 600.85,373.41 601.39,372.93 601.93,372.44 602.47,371.95 603.01,371.45 603.54,370.95 604.07,370.45 604.6,369.94 605.13,369.43 605.66,368.92 606.18,368.4 606.7,367.88 607.22,367.36 607.74,366.83 608.25,366.3 608.77,365.76 609.28,365.22 609.79,364.68 610.29,364.13 610.79,363.58 611.3,363.03 611.8,362.47 612.29,361.91 612.79,361.34 613.28,360.77 613.77,360.19 614.26,359.62 614.74,359.03 615.22,358.45 615.71,357.85 616.18,357.26 616.66,356.66 617.13,356.06 617.61,355.45 618.07,354.83 618.54,354.22 619.01,353.59 619.47,352.97 619.93,352.34 620.39,351.7 620.84,351.06 621.29,350.41 621.74,349.76 622.19,349.11 622.64,348.45 623.08,347.78 623.52,347.11 623.96,346.44 624.4,345.76 624.83,345.07 625.26,344.38 625.69,343.69 626.12,342.99 626.54,342.28 626.96,341.57 627.38,340.85 627.8,340.13 628.21,339.4 628.62,338.67 629.03,337.93 629.44,337.18 629.85,336.43 630.25,335.67 630.65,334.91 631.04,334.14 631.44,333.36 631.83,332.58 632.22,331.79 632.61,330.99 632.99,330.19 633.38,329.38 633.76,328.57 634.13,327.75 634.51,326.92 634.88,326.08 635.25,325.24 635.62,324.39 635.98,323.53 636.35,322.67 636.71,321.79 637.06,320.92 637.42,320.03 637.77,319.13 638.12,318.23 638.47,317.32 638.81,316.4 639.16,315.47 639.49,314.54 639.83,313.6 640.17,312.64 640.5,311.68 640.83,310.71 641.16,309.73 641.48,308.75 641.8,307.75 642.12,306.74 642.44,305.73 642.75,304.7 643.06,303.67 643.37,302.62 643.68,301.56 643.98,300.5 644.28,299.42 644.58,298.33 644.88,297.24 645.17,296.13 645.46,295.01 645.75,293.87 646.04,292.73 646.32,291.57 646.6,290.41 646.88,289.23 647.15,288.03 647.43,286.83 647.7,285.61 647.96,284.38 648.23,283.13 648.49,281.87 648.75,280.6 649.01,279.31 649.26,278.01 649.51,276.69 649.76,275.36 650.01,274.01 650.25,272.64 650.49,271.26 650.73,269.86 650.96,268.45 651.2,267.02 651.43,265.56 651.66,264.1 651.88,262.61 652.1,261.1 652.32,259.58 652.54,258.03 652.75,256.46 652.96,254.87 653.17,253.26 653.38,251.63 653.58,249.98 653.78,248.3 653.98,246.59 654.18,244.87 654.37,243.11 654.56,241.33 654.75,239.53 654.93,237.7 655.12,235.83 655.29,233.94 655.47,232.02 655.65,230.07 655.82,228.08 655.99,226.06 656.15,224.01 656.31,221.92 656.47,219.8 656.63,217.64 656.79,215.44 656.94,213.19 657.09,210.91 657.24,208.58 657.38,206.21 657.52,203.79 657.66,201.32 657.8,198.8 657.93,196.23 658.06,193.6 658.19,190.92 658.31,188.17 658.43,185.36 658.55,182.49 658.67,179.55 658.79,176.54 658.9,173.45 659.01,170.28 659.11,167.03 659.16,165.36" stroke="#4DBEEE"/>
<polyline points="104.24,165.37 104.29,167.04 104.39,170.3 104.5,173.47 104.61,176.55 104.73,179.57 104.85,182.51 104.97,185.39 105.09,188.2 105.21,190.94 105.34,193.63 105.47,196.26 105.6,198.83 105.74,201.35 105.88,203.83 106.02,206.25 106.16,208.62 106.31,210.95 106.46,213.24 106.61,215.48 106.77,217.69 106.93,219.85 107.09,221.98 107.25,224.07 107.41,226.13 107.58,228.15 107.75,230.14 107.93,232.09 108.11,234.02 108.28,235.91 108.47,237.78 108.65,239.62 108.84,241.42 109.03,243.21 109.22,244.96 109.42,246.7 109.62,248.4 109.82,250.09 110.02,251.75 110.23,253.38 110.44,255 110.65,256.59 110.86,258.16 111.08,259.71 111.3,261.25 111.52,262.76 111.74,264.25 111.97,265.73 112.2,267.18 112.44,268.62 112.67,270.04 112.91,271.45 113.15,272.83 113.39,274.21 113.64,275.56 113.89,276.9 114.14,278.23 114.39,279.54 114.65,280.83 114.91,282.11 115.17,283.38 115.44,284.63 115.7,285.87 115.97,287.1 116.25,288.31 116.52,289.51 116.8,290.7 117.08,291.88 117.36,293.04 117.65,294.2 117.94,295.34 118.23,296.47 118.52,297.59 118.82,298.69 119.12,299.79 119.42,300.88 119.72,301.95 120.03,303.02 120.34,304.07 120.65,305.12 120.96,306.16 121.28,307.18 121.6,308.2 121.92,309.21 122.24,310.21 122.57,311.2 122.9,312.18 123.23,313.15 123.57,314.12 123.91,315.07 124.24,316.02 124.59,316.96 124.93,317.89 125.28,318.82 125.63,319.73 125.98,320.64 126.34,321.54 126.69,322.44 127.05,323.32 127.42,324.2 127.78,325.07 128.15,325.94 128.52,326.79 128.89,327.64 129.27,328.49 129.64,329.33 130.02,330.16 130.41,330.98 130.79,331.8 131.18,332.61 131.57,333.42 131.96,334.22 132.36,335.01 132.75,335.8 133.15,336.58 133.55,337.35 133.96,338.12 134.37,338.89 134.78,339.64 135.19,340.4 135.6,341.15 136.02,341.89 136.44,342.62 136.86,343.35 137.28,344.08 137.71,344.8 138.14,345.52 138.57,346.23 139,346.93 139.44,347.63 139.88,348.33 140.32,349.02 140.76,349.71 141.21,350.39 141.66,351.07 142.11,351.74 142.56,352.41 143.01,353.07 143.47,353.73 143.93,354.38 144.39,355.03 144.86,355.68 145.33,356.32 145.79,356.96 146.27,357.59 146.74,358.22 147.22,358.84 147.69,359.46 148.18,360.08 148.66,360.69 149.14,361.3 149.63,361.9 150.12,362.51 150.61,363.1 151.11,363.7 151.6,364.28 152.1,364.87 152.61,365.45 153.11,366.03 153.61,366.6 154.12,367.18 154.63,367.74 155.15,368.31 155.66,368.87 156.18,369.42 156.7,369.98 157.22,370.53 157.74,371.08 158.27,371.62 158.8,372.16 159.33,372.7 159.86,373.23 160.39,373.76 160.93,374.29 161.47,374.81 162.01,375.33 162.55,375.85 163.1,376.36 163.65,376.88 164.2,377.38 164.75,377.89 165.3,378.39 165.86,378.89 166.42,379.39 166.98,379.88 167.54,380.37 168.11,380.86 168.67,381.35 169.24,381.83 169.81,382.31 170.39,382.79 170.96,383.26 171.54,383.73 172.12,384.2 172.7,384.67 173.28,385.13 173.87,385.59 174.46,386.05 175.05,386.5 175.64,386.96 176.23,387.41 176.83,387.85 177.43,388.3 178.03,388.74 178.63,389.18 179.23,389.62 179.84,390.05 180.45,390.49 181.06,390.92 181.67,391.34 182.28,391.77 182.9,392.19 183.51,392.61 184.13,393.03 184.76,393.45 185.38,393.86 186.01,394.27 186.63,394.68 187.26,395.09 187.89,395.49 188.53,395.89 189.16,396.29 189.8,396.69 190.44,397.09 191.08,397.48 191.72,397.87 192.37,398.26 193.01,398.65 193.66,399.03 194.31,399.42 194.96,399.8 195.62,400.18 196.27,400.55 196.93,400.93 197.59,401.3 198.25,401.67 198.91,402.04 199.58,402.4 200.24,402.77 200.91,403.13 201.58,403.49 202.25,403.85 202.93,404.21 203.6,404.56 204.28,404.91 204.96,405.26 205.64,405.61 206.32,405.96 207.01,406.3 207.69,406.65 208.38,406.99 209.07,407.33 209.76,407.66 210.45,408 211.15,408.33 211.84,408.66 212.54,408.99 213.24,409.32 213.94,409.65 214.65,409.97 215.35,410.3 216.06,410.62 216.76,410.94 217.47,411.25 218.18,411.57 218.9,411.88 219.61,412.2 220.33,412.51 221.04,412.82 221.76,413.12 222.48,413.43 223.21,413.73 223.93,414.04 224.65,414.34 225.38,414.64 226.11,414.93 226.84,415.23 227.57,415.52 228.3,415.81 229.04,416.11 229.77,416.39 230.51,416.68 231.25,416.97 231.99,417.25 232.73,417.54 233.48,417.82 234.22,418.1 234.97,418.37 235.71,418.65 236.46,418.93 237.21,419.2 237.97,419.47 238.72,419.74 239.47,420.01 240.23,420.28 240.99,420.54 241.75,420.81 242.51,421.07 243.27,421.33 244.03,421.59 244.8,421.85 245.56,422.11 246.33,422.36 247.1,422.62 247.87,422.87 248.64,423.12 249.41,423.37 250.19,423.62 250.96,423.86 251.74,424.11 252.51,424.35 253.29,424.59 254.07,424.83 254.86,425.07 255.64,425.31 256.42,425.55 257.21,425.78 257.99,426.02 258.78,426.25 259.57,426.48 260.36,426.71 261.15,426.94 261.94,427.17 262.74,427.39 263.53,427.62 264.33,427.84 265.13,428.06 265.92,428.28 266.72,428.5 267.52,428.72 268.33,428.93 269.13,429.15 269.93,429.36 270.74,429.57 271.54,429.78 272.35,429.99 273.16,430.2 273.97,430.41 274.78,430.61 275.59,430.82 276.4,431.02 277.22,431.22 278.03,431.42 278.85,431.62 279.66,431.82 280.48,432.02 281.3,432.21 282.12,432.41 282.94,432.6 283.76,432.79 284.58,432.98 285.41,433.17 286.23,433.36 287.06,433.54 287.88,433.73 288.71,433.91 289.54,434.09 290.37,434.27 291.2,434.45 292.03,434.63 292.86,434.81 293.69,434.99 294.53,435.16 295.36,435.34 296.2,435.51 297.03,435.68 297.87,435.85 298.71,436.02 299.55,436.19 300.38,436.35 301.22,436.52 302.07,436.68 302.91,436.84 303.75,437.01 304.59,437.17 305.44,437.33 306.28,437.48 307.13,437.64 307.97,437.8 308.82,437.95 309.67,438.1 310.52,438.26 311.37,438.41 312.22,438.56 313.07,438.7 313.92,438.85 314.77,439 315.62,439.14 316.48,439.29 317.33,439.43 318.18,439.57 319.04,439.71 319.89,439.85 320.75,439.99 321.61,440.12 322.47,440.26 323.32,440.39 324.18,440.52 325.04,440.66 325.9,440.79 326.76,440.92 327.62,441.04 328.48,441.17 329.35,441.3 330.21,441.42 331.07,441.55 331.93,441.67 332.8,441.79 333.66,441.91 334.53,442.03 335.39,442.15 336.26,442.26 337.13,442.38 337.99,442.49 338.86,442.61 339.73,442.72 340.59,442.83 341.46,442.94 342.33,443.05 343.2,443.15 344.07,443.26 344.94,443.37 345.81,443.47 346.68,443.57 347.55,443.67 348.42,443.77 349.3,443.87 350.17,443.97 351.04,444.07 351.91,444.17 352.79,444.26 353.66,444.35 354.53,444.45 355.41,444.54 356.28,444.63 357.15,444.72 358.03,444.8 358.9,444.89 359.78,444.98 360.65,445.06 361.53,445.14 362.4,445.23 363.28,445.31 364.16,445.39 365.03,445.46 365.91,445.54 366.79,445.62 367.66,445.69 368.54,445.77 369.42,445.84 370.29,445.91 371.17,445.98 372.05,446.05 372.92,446.12 373.8,446.19 374.68,446.25 375.56,446.32 376.43,446.38 377.31,446.44 378.19,446.5 379.07,446.56 379.94,446.62 380.82,446.68 381.7,446.74 382.58,446.79 383.46,446.85 384.33,446.9 385.21,446.95 386.09,447 386.97,447.05 387.84,447.1 388.72,447.15 389.6,447.19 390.48,447.24 391.35,447.28 392.23,447.32 393.11,447.36 393.98,447.4 394.86,447.44 395.74,447.48 396.61,447.52 397.49,447.55 398.37,447.59 399.24,447.62 400.12,447.65 401,447.68 401.87,447.71 402.75,447.74 403.62,447.77 404.5,447.79 405.37,447.82 406.25,447.84 407.12,447.86 407.99,447.88 408.87,447.9 409.74,447.92 410.61,447.94 411.49,447.95 412.36,447.97 413.23,447.98 414.1,448 414.98,448.01 415.85,448.02 416.72,448.03 417.59,448.03 418.46,448.04 419.33,448.04 420.2,448.05 421.07,448.05 421.94,448.05 422.81,448.05 423.67,448.05 424.54,448.05 425.41,448.05 426.27,448.04 427.14,448.04 428.01,448.03 428.87,448.02 429.74,448.01 430.6,448 431.47,447.99 432.33,447.97 433.19,447.96 434.05,447.94 434.92,447.92 435.78,447.91 436.64,447.89 437.5,447.86 438.36,447.84 439.22,447.82 440.08,447.79 440.93,447.77 441.79,447.74 442.65,447.71 443.51,447.68 444.36,447.65 445.22,447.61 446.07,447.58 446.92,447.54 447.78,447.51 448.63,447.47 449.48,447.43 450.33,447.39 451.18,447.35 452.03,447.3 452.88,447.26 453.73,447.21 454.58,447.16 455.43,447.11 456.27,447.06 457.12,447.01 457.96,446.96 458.81,446.91 459.65,446.85 460.49,446.79 461.33,446.73 462.18,446.67 463.02,446.61 463.85,446.55 464.69,446.49 465.53,446.42 466.37,446.35 467.2,446.29 468.04,446.22 468.87,446.15 469.71,446.07 470.54,446 471.37,445.92 472.2,445.85 473.03,445.77 473.86,445.69 474.69,445.61 475.52,445.53 476.34,445.44 477.17,445.36 477.99,445.27 478.82,445.18 479.64,445.09 480.46,445 481.28,444.91 482.1,444.81 482.92,444.72 483.74,444.62 484.55,444.52 485.37,444.42 486.18,444.32 487,444.22 487.81,444.11 488.62,444.01 489.43,443.9 490.24,443.79 491.05,443.68 491.86,443.57 492.66,443.45 493.47,443.34 494.27,443.22 495.07,443.1 495.88,442.98 496.68,442.86 497.48,442.74 498.27,442.61 499.07,442.48 499.87,442.36 500.66,442.23 501.46,442.1 502.25,441.96 503.04,441.83 503.83,441.69 504.62,441.55 505.41,441.41 506.19,441.27 506.98,441.13 507.76,440.99 508.54,440.84 509.33,440.69 510.11,440.54 510.89,440.39 511.66,440.24 512.44,440.09 513.21,439.93 513.99,439.77 514.76,439.61 515.53,439.45 516.3,439.29 517.07,439.12 517.84,438.96 518.6,438.79 519.37,438.62 520.13,438.45 520.89,438.27 521.65,438.1 522.41,437.92 523.17,437.74 523.93,437.56 524.68,437.38 525.43,437.2 526.19,437.01 526.94,436.82 527.69,436.63 528.43,436.44 529.18,436.25 529.92,436.05 530.67,435.85 531.41,435.66 532.15,435.45 532.89,435.25 533.63,435.05 534.36,434.84 535.1,434.63 535.83,434.42 536.56,434.21 537.29,433.99 538.02,433.78 538.75,433.56 539.47,433.34 540.19,433.12 540.92,432.89 541.64,432.67 542.36,432.44 543.07,432.21 543.79,431.98 544.5,431.74 545.22,431.51 545.93,431.27 546.64,431.03 547.34,430.79 548.05,430.54 548.75,430.29 549.46,430.05 550.16,429.8 550.86,429.54 551.56,429.29 552.25,429.03 552.95,428.77 553.64,428.51 554.33,428.25 555.02,427.98 555.71,427.71 556.39,427.44 557.08,427.17 557.76,426.89 558.44,426.62 559.12,426.34 559.8,426.06 560.47,425.77 561.15,425.49 561.82,425.2 562.49,424.91 563.16,424.62 563.82,424.32 564.49,424.02 565.15,423.72 565.81,423.42 566.47,423.12 567.13,422.81 567.78,422.5 568.44,422.19 569.09,421.87 569.74,421.56 570.39,421.24 571.03,420.91 571.68,420.59 572.32,420.26 572.96,419.93 573.6,419.6 574.24,419.27 574.87,418.93 575.51,418.59 576.14,418.25 576.77,417.9 577.39,417.56 578.02,417.21 578.64,416.85 579.27,416.5 579.89,416.14 580.5,415.78 581.12,415.42 581.73,415.05 582.34,414.68 582.95,414.31 583.56,413.93 584.17,413.56 584.77,413.18 585.37,412.79 585.97,412.41 586.57,412.02 587.17,411.63 587.76,411.23 588.35,410.84 588.94,410.43 589.53,410.03 590.12,409.62 590.7,409.22 591.28,408.8 591.86,408.39 592.44,407.97 593.01,407.55 593.59,407.12 594.16,406.69 594.73,406.26 595.29,405.83 595.86,405.39 596.42,404.95 596.98,404.51 597.54,404.06 598.1,403.61 598.65,403.16 599.2,402.7 599.75,402.24 600.3,401.77 600.85,401.31 601.39,400.83 601.93,400.36 602.47,399.88 603.01,399.4 603.54,398.92 604.07,398.43 604.6,397.94 605.13,397.44 605.66,396.94 606.18,396.44 606.7,395.93 607.22,395.42 607.74,394.91 608.25,394.39 608.77,393.87 609.28,393.34 609.79,392.81 610.29,392.28 610.79,391.74 611.3,391.2 611.8,390.65 612.29,390.1 612.79,389.55 613.28,388.99 613.77,388.43 614.26,387.86 614.74,387.29 615.22,386.71 615.71,386.14 616.18,385.55 616.66,384.96 617.13,384.37 617.61,383.77 618.07,383.17 618.54,382.57 619.01,381.95 619.47,381.34 619.93,380.72 620.39,380.09 620.84,379.46 621.29,378.83 621.74,378.19 622.19,377.54 622.64,376.9 623.08,376.24 623.52,375.58 623.96,374.92 624.4,374.25 624.83,373.57 625.26,372.89 625.69,372.2 626.12,371.51 626.54,370.81 626.96,370.11 627.38,369.4 627.8,368.69 628.21,367.97 628.62,367.25 629.03,366.51 629.44,365.78 629.85,365.03 630.25,364.28 630.65,363.53 631.04,362.77 631.44,362 631.83,361.22 632.22,360.44 632.61,359.66 632.99,358.86 633.38,358.06 633.76,357.25 634.13,356.44 634.51,355.62 634.88,354.79 635.25,353.95 635.62,353.11 635.98,352.26 636.35,351.4 636.71,350.54 637.06,349.67 637.42,348.79 637.77,347.9 638.12,347 638.47,346.1 638.81,345.19 639.16,344.27 639.49,343.34 639.83,342.4 640.17,341.45 640.5,340.5 640.83,339.53 641.16,338.56 641.48,337.58 641.8,336.59 642.12,335.59 642.44,334.58 642.75,333.56 643.06,332.52 643.37,331.48 643.68,330.43 643.98,329.37 644.28,328.3 644.58,327.22 644.88,326.12 645.17,325.02 645.46,323.9 645.75,322.78 646.04,321.64 646.32,320.49 646.6,319.32 646.88,318.15 647.15,316.96 647.43,315.75 647.7,314.54 647.96,313.31 648.23,312.07 648.49,310.81 648.75,309.54 649.01,308.26 649.26,306.96 649.51,305.65 649.76,304.32 650.01,302.97 650.25,301.61 650.49,300.23 650.73,298.84 650.96,297.42 651.2,295.99 651.43,294.55 651.66,293.08 651.88,291.6 652.1,290.09 652.32,288.57 652.54,287.02 652.75,285.46 652.96,283.87 653.17,282.26 653.38,280.63 653.58,278.98 653.78,277.31 653.98,275.6 654.18,273.88 654.37,272.13 654.56,270.35 654.75,268.55 654.93,266.72 655.12,264.86 655.29,262.97 655.47,261.05 655.65,259.09 655.82,257.11 655.99,255.09 656.15,253.04 656.31,250.96 656.47,248.83 656.63,246.67 656.79,244.47 656.94,242.23 657.09,239.95 657.24,237.62 657.38,235.25 657.52,232.83 657.66,230.36 657.8,227.85 657.93,225.27 658.06,222.65 658.19,219.96 658.31,217.22 658.43,214.41 658.55,211.54 658.67,208.6 658.79,205.59 658.9,202.5 659.01,199.33 659.11,196.08 659.16,194.41" stroke="#A2142F"/>
</g>
<g font-family='"Liberation Sans", Arial, Helvetica, sans-serif' fill="#000" stroke="#000" stroke-width="0.3">
<text x="86.4" y="514.9" text-anchor="end" font-size="28.8">10<tspan dy="-13.2" font-size="24.4">0</tspan></text>
<text x="86.4" y="417.2" text-anchor="end" font-size="28.8">10<tspan dy="-13.2" font-size="24.4">1</tspan></text>
<text x="86.4" y="321.4" text-anchor="end" font-size="28.8">10<tspan dy="-13.2" font-size="24.4">2</tspan></text>
<text x="86.4" y="223.4" text-anchor="end" font-size="28.8">10<tspan dy="-13.2" font-size="24.4">3</tspan></text>
<text x="86.4" y="127.6" text-anchor="end" font-size="28.8">10<tspan dy="-13.2" font-size="24.4">4</tspan></text>
<text x="86.4" y="32.2" text-anchor="end" font-size="28.8">10<tspan dy="-13.2" font-size="24.4">5</tspan></text>
<text x="102" y="537.8" text-anchor="middle" font-size="28.8">-1</text>
<text x="241.7" y="537.8" text-anchor="middle" font-size="28.8">-0.5</text>
<text x="381.4" y="537.8" text-anchor="middle" font-size="28.8">0</text>
<text x="521.1" y="537.8" text-anchor="middle" font-size="28.8">0.5</text>
<text x="660.8" y="537.8" text-anchor="middle" font-size="28.8">1</text>
<text x="379.7" y="479.5" text-anchor="middle" font-size="28.4">increasing N</text>
<text transform="translate(285.2 485.6) scale(0.74 1)" x="-14.25" y="0" font-family='"DejaVu Sans Light", "DejaVu Sans", sans-serif' font-weight="200" font-size="34">↑</text>
<text transform="translate(474.9 485.6) scale(0.74 1)" x="-14.25" y="0" font-family='"DejaVu Sans Light", "DejaVu Sans", sans-serif' font-weight="200" font-size="34">↑</text>
</g>
<rect x="289.3" y="43" width="185.2" height="234.6" fill="#fff" stroke="#000" stroke-width="2.7"/>
<g font-family='"Liberation Sans", Arial, Helvetica, sans-serif' font-size="27.4" letter-spacing="-0.75" fill="#000" stroke="#000" stroke-width="0.3">
<path d="M305 63.7H394.5" stroke="#0072BD" stroke-width="2.6"/>
<text x="401.6" y="74.9">N<tspan dy="2.2">=</tspan><tspan dy="-2.2">64</tspan></text>
<path d="M305 95.83H394.5" stroke="#D95319" stroke-width="2.6"/>
<text x="401.6" y="107.03">N<tspan dy="2.2">=</tspan><tspan dy="-2.2">32</tspan></text>
<path d="M305 127.96H394.5" stroke="#EDB120" stroke-width="2.6"/>
<text x="401.6" y="139.16">N<tspan dy="2.2">=</tspan><tspan dy="-2.2">16</tspan></text>
<path d="M305 160.09H394.5" stroke="#7E2F8E" stroke-width="2.6"/>
<text x="401.6" y="171.29">N<tspan dy="2.2">=</tspan><tspan dy="-2.2">8</tspan></text>
<path d="M305 192.22H394.5" stroke="#77AC30" stroke-width="2.6"/>
<text x="401.6" y="203.42">N<tspan dy="2.2">=</tspan><tspan dy="-2.2">4</tspan></text>
<path d="M305 224.35H394.5" stroke="#4DBEEE" stroke-width="2.6"/>
<text x="401.6" y="235.55">N<tspan dy="2.2">=</tspan><tspan dy="-2.2">2</tspan></text>
<path d="M305 256.48H394.5" stroke="#A2142F" stroke-width="2.6"/>
<text x="401.6" y="267.68">N<tspan dy="2.2">=</tspan><tspan dy="-2.2">1</tspan></text>
</g>
<text y="574.5" font-family='"Liberation Serif", "DejaVu Serif", serif' font-size="34"><tspan x="343.8" font-style="italic">k</tspan><tspan x="403.4">2</tspan></text><text x="362.2" y="578.3" font-family='"DejaVu Sans Light", "DejaVu Sans", sans-serif' font-weight="200" font-size="39.7">/</text><text x="376.3" y="575.9" font-family='"DejaVu Math TeX Gyre", "DejaVu Serif", serif' font-size="36.8">√</text><path d="M400.8 547H419.3" stroke="#000" stroke-width="1.6"/>
<text transform="translate(23 257.6) rotate(-90) scale(1.07 1)" text-anchor="middle" font-family='"Liberation Serif", "DejaVu Serif", serif' font-size="37" font-style="italic">W</text>
<path d="M1023.73 14.4V497.2M1210.07 14.4V497.2M837.4 416.73H1396.4M837.4 255.8H1396.4M837.4 94.87H1396.4" stroke="#DFDFDF" stroke-width="2.6" fill="none"/>
<path d="M1023.73 497.2v-7M1023.73 14.4v7M1210.07 497.2v-7M1210.07 14.4v7M837.4 416.73h7M1396.4 416.73h-7M837.4 255.8h7M1396.4 255.8h-7M837.4 94.87h7M1396.4 94.87h-7" stroke="#000" stroke-width="2.7" fill="none"/>
<rect x="837.4" y="14.4" width="559" height="482.8" fill="none" stroke="#000" stroke-width="2.7"/>
<polyline clip-path="url(#cr)" points="837.4,4.5 838.33,5.71 839.27,6.91 840.2,8.12 841.13,9.32 842.07,10.53 843,11.73 843.93,12.94 844.87,14.14 845.8,15.34 846.73,16.55 847.67,17.75 848.6,18.96 849.53,20.16 850.47,21.36 851.4,22.57 852.33,23.77 853.26,24.98 854.2,26.18 855.13,27.38 856.06,28.59 857,29.79 857.93,30.99 858.86,32.19 859.8,33.4 860.73,34.6 861.66,35.8 862.6,37 863.53,38.21 864.46,39.41 865.4,40.61 866.33,41.81 867.26,43.01 868.2,44.21 869.13,45.41 870.06,46.61 871,47.82 871.93,49.02 872.86,50.22 873.8,51.42 874.73,52.62 875.66,53.82 876.6,55.02 877.53,56.22 878.46,57.41 879.39,58.61 880.33,59.81 881.26,61.01 882.19,62.21 883.13,63.41 884.06,64.61 884.99,65.8 885.93,67 886.86,68.2 887.79,69.39 888.73,70.59 889.66,71.79 890.59,72.98 891.53,74.18 892.46,75.37 893.39,76.57 894.33,77.76 895.26,78.96 896.19,80.15 897.13,81.35 898.06,82.54 898.99,83.74 899.93,84.93 900.86,86.12 901.79,87.31 902.73,88.51 903.66,89.7 904.59,90.89 905.53,92.08 906.46,93.27 907.39,94.46 908.32,95.65 909.26,96.84 910.19,98.03 911.12,99.22 912.06,100.41 912.99,101.6 913.92,102.78 914.86,103.97 915.79,105.16 916.72,106.34 917.66,107.53 918.59,108.71 919.52,109.9 920.46,111.08 921.39,112.27 922.32,113.45 923.26,114.63 924.19,115.82 925.12,117 926.06,118.18 926.99,119.36 927.92,120.54 928.86,121.72 929.79,122.9 930.72,124.08 931.66,125.25 932.59,126.43 933.52,127.61 934.46,128.78 935.39,129.96 936.32,131.13 937.25,132.31 938.19,133.48 939.12,134.65 940.05,135.83 940.99,137 941.92,138.17 942.85,139.34 943.79,140.51 944.72,141.68 945.65,142.84 946.59,144.01 947.52,145.18 948.45,146.34 949.39,147.51 950.32,148.67 951.25,149.83 952.19,151 953.12,152.16 954.05,153.32 954.99,154.48 955.92,155.64 956.85,156.79 957.79,157.95 958.72,159.11 959.65,160.26 960.59,161.41 961.52,162.57 962.45,163.72 963.38,164.87 964.32,166.02 965.25,167.17 966.18,168.32 967.12,169.46 968.05,170.61 968.98,171.75 969.92,172.9 970.85,174.04 971.78,175.18 972.72,176.32 973.65,177.46 974.58,178.6 975.52,179.73 976.45,180.87 977.38,182 978.32,183.14 979.25,184.27 980.18,185.4 981.12,186.53 982.05,187.66 982.98,188.78 983.92,189.91 984.85,191.03 985.78,192.15 986.72,193.27 987.65,194.39 988.58,195.51 989.52,196.63 990.45,197.75 991.38,198.86 992.31,199.97 993.25,201.08 994.18,202.19 995.11,203.3 996.05,204.41 996.98,205.51 997.91,206.62 998.85,207.72 999.78,208.82 1000.71,209.92 1001.65,211.02 1002.58,212.11 1003.51,213.21 1004.45,214.3 1005.38,215.39 1006.31,216.48 1007.25,217.57 1008.18,218.65 1009.11,219.74 1010.05,220.82 1010.98,221.9 1011.91,222.98 1012.85,224.06 1013.78,225.13 1014.71,226.2 1015.65,227.28 1016.58,228.35 1017.51,229.42 1018.45,230.48 1019.38,231.55 1020.31,232.61 1021.24,233.67 1022.18,234.73 1023.11,235.79 1024.04,236.84 1024.98,237.9 1025.91,238.95 1026.84,240 1027.78,241.05 1028.71,242.09 1029.64,243.14 1030.58,244.18 1031.51,245.22 1032.44,246.26 1033.38,247.29 1034.31,248.33 1035.24,249.36 1036.18,250.39 1037.11,251.42 1038.04,252.45 1038.98,253.47 1039.91,254.49 1040.84,255.51 1041.78,256.53 1042.71,257.55 1043.64,258.56 1044.58,259.58 1045.51,260.59 1046.44,261.6 1047.37,262.6 1048.31,263.61 1049.24,264.61 1050.17,265.61 1051.11,266.61 1052.04,267.61 1052.97,268.6 1053.91,269.6 1054.84,270.59 1055.77,271.58 1056.71,272.56 1057.64,273.55 1058.57,274.53 1059.51,275.51 1060.44,276.49 1061.37,277.47 1062.31,278.44 1063.24,279.42 1064.17,280.39 1065.11,281.36 1066.04,282.33 1066.97,283.29 1067.91,284.26 1068.84,285.22 1069.77,286.18 1070.71,287.14 1071.64,288.09 1072.57,289.05 1073.51,290 1074.44,290.95 1075.37,291.9 1076.3,292.85 1077.24,293.79 1078.17,294.74 1079.1,295.68 1080.04,296.62 1080.97,297.56 1081.9,298.49 1082.84,299.43 1083.77,300.36 1084.7,301.29 1085.64,302.22 1086.57,303.15 1087.5,304.07 1088.44,305 1089.37,305.92 1090.3,306.84 1091.24,307.76 1092.17,308.68 1093.1,309.59 1094.04,310.51 1094.97,311.42 1095.9,312.33 1096.84,313.24 1097.77,314.15 1098.7,315.06 1099.64,315.96 1100.57,316.87 1101.5,317.77 1102.44,318.67 1103.37,319.57 1104.3,320.47 1105.23,321.36 1106.17,322.26 1107.1,323.15 1108.03,324.05 1108.97,324.94 1109.9,325.83 1110.83,326.71 1111.77,327.6 1112.7,328.49 1113.63,329.37 1114.57,330.25 1115.5,331.14 1116.43,332.02 1117.37,332.9 1118.3,333.77 1119.23,334.65 1120.17,335.53 1121.1,336.4 1122.03,337.27 1122.97,338.15 1123.9,339.02 1124.83,339.89 1125.77,340.76 1126.7,341.62 1127.63,342.49 1128.57,343.36 1129.5,344.22 1130.43,345.08 1131.36,345.95 1132.3,346.81 1133.23,347.67 1134.16,348.53 1135.1,349.39 1136.03,350.24 1136.96,351.1 1137.9,351.96 1138.83,352.81 1139.76,353.67 1140.7,354.52 1141.63,355.37 1142.56,356.22 1143.5,357.07 1144.43,357.92 1145.36,358.77 1146.3,359.62 1147.23,360.47 1148.16,361.32 1149.1,362.16 1150.03,363.01 1150.96,363.85 1151.9,364.69 1152.83,365.54 1153.76,366.38 1154.7,367.22 1155.63,368.06 1156.56,368.9 1157.5,369.74 1158.43,370.58 1159.36,371.42 1160.29,372.26 1161.23,373.09 1162.16,373.93 1163.09,374.77 1164.03,375.6 1164.96,376.44 1165.89,377.27 1166.83,378.1 1167.76,378.94 1168.69,379.77 1169.63,380.6 1170.56,381.43 1171.49,382.26 1172.43,383.09 1173.36,383.92 1174.29,384.75 1175.23,385.58 1176.16,386.41 1177.09,387.24 1178.03,388.07 1178.96,388.89 1179.89,389.72 1180.83,390.55 1181.76,391.37 1182.69,392.2 1183.63,393.02 1184.56,393.85 1185.49,394.67 1186.43,395.5 1187.36,396.32 1188.29,397.14 1189.22,397.97 1190.16,398.79 1191.09,399.61 1192.02,400.43 1192.96,401.25 1193.89,402.07 1194.82,402.9 1195.76,403.72 1196.69,404.54 1197.62,405.36 1198.56,406.18 1199.49,407 1200.42,407.81 1201.36,408.63 1202.29,409.45 1203.22,410.27 1204.16,411.09 1205.09,411.91 1206.02,412.72 1206.96,413.54 1207.89,414.36 1208.82,415.18 1209.76,415.99 1210.69,416.81 1211.62,417.62 1212.56,418.44 1213.49,419.26 1214.42,420.07 1215.35,420.89 1216.29,421.7 1217.22,422.52 1218.15,423.33 1219.09,424.15 1220.02,424.96 1220.95,425.77 1221.89,426.59 1222.82,427.4 1223.75,428.22 1224.69,429.03 1225.62,429.84 1226.55,430.66 1227.49,431.47 1228.42,432.28 1229.35,433.09 1230.29,433.91 1231.22,434.72 1232.15,435.53 1233.09,436.34 1234.02,437.16 1234.95,437.97 1235.89,438.78 1236.82,439.59 1237.75,440.4 1238.69,441.21 1239.62,442.03 1240.55,442.84 1241.49,443.65 1242.42,444.46 1243.35,445.27 1244.28,446.08 1245.22,446.89 1246.15,447.7 1247.08,448.51 1248.02,449.32 1248.95,450.13 1249.88,450.94 1250.82,451.75 1251.75,452.56 1252.68,453.37 1253.62,454.18 1254.55,454.99 1255.48,455.8 1256.42,456.61 1257.35,457.42 1258.28,458.23 1259.22,459.04 1260.15,459.85 1261.08,460.66 1262.02,461.47 1262.95,462.28 1263.88,463.08 1264.82,463.89 1265.75,464.7 1266.68,465.51 1267.62,466.32 1268.55,467.13 1269.48,467.94 1270.42,468.75 1271.35,469.55 1272.28,470.36 1273.21,471.17 1274.15,471.98 1275.08,472.79 1276.01,473.6 1276.95,474.4 1277.88,475.21 1278.81,476.02 1279.75,476.83 1280.68,477.64 1281.61,478.44 1282.55,479.25 1283.48,480.06 1284.41,480.87 1285.35,481.68 1286.28,482.48 1287.21,483.29 1288.15,484.1 1289.08,484.91 1290.01,485.71 1290.95,486.52 1291.88,487.33 1292.81,488.14 1293.75,488.94 1294.68,489.75 1295.61,490.56 1296.55,491.37 1297.48,492.17 1298.41,492.98 1299.34,493.79 1300.28,494.59 1301.21,495.4 1302.14,496.21 1303.08,497.02 1304.01,497.82 1304.94,498.63 1305.88,499.44 1306.81,500.24 1307.74,501.05 1308.68,501.86 1309.61,502.67 1310.54,503.47 1311.48,504.28 1312.41,505.09 1313.34,505.89 1314.28,506.7 1315.21,507.51 1316.14,508.31 1317.08,509.12 1318.01,509.93 1318.94,510.73 1319.88,511.54 1320.81,512.35 1321.74,513.15 1322.68,513.96 1323.61,514.77 1324.54,515.57 1325.48,516.38 1326.41,517.19 1327.34,517.99 1328.27,518.8 1329.21,519.61 1330.14,520.41 1331.07,521.22 1332.01,522.03 1332.94,522.83 1333.87,523.64 1334.81,524.45 1335.74,525.25 1336.67,526.06 1337.61,526.87 1338.54,527.67 1339.47,528.48 1340.41,529.29 1341.34,530.09 1342.27,530.9 1343.21,531.71 1344.14,532.51 1345.07,533.32 1346.01,534.13 1346.94,534.93 1347.87,535.74 1348.81,536.54 1349.74,537.35 1350.67,538.16 1351.61,538.96 1352.54,539.77 1353.47,540.58 1354.41,541.38 1355.34,542.19 1356.27,542.99 1357.2,543.8 1358.14,544.61 1359.07,545.41 1360,546.22 1360.94,547.03 1361.87,547.83 1362.8,548.64 1363.74,549.45 1364.67,550.25 1365.6,551.06 1366.54,551.86 1367.47,552.67 1368.4,553.48 1369.34,554.28 1370.27,555.09 1371.2,555.9 1372.14,556.7 1373.07,557.51 1374,558.31 1374.94,559.12 1375.87,559.93 1376.8,560.73 1377.74,561.54 1378.67,562.34 1379.6,563.15 1380.54,563.96 1381.47,564.76 1382.4,565.57 1383.33,566.38 1384.27,567.18 1385.2,567.99 1386.13,568.79 1387.07,569.6 1388,570.41 1388.93,571.21 1389.87,572.02 1390.8,572.82 1391.73,573.63 1392.67,574.44 1393.6,575.24 1394.53,576.05 1395.47,576.86 1396.4,577.66" fill="none" stroke="#0072BD" stroke-width="2.5" stroke-linejoin="round"/>
<path d="M1065.8 498.4V0" stroke="#000" stroke-width="2.4" stroke-dasharray="21.5 13.46" fill="none" clip-path="url(#cr)"/>
<rect x="989.3" y="42.4" width="378.8" height="74" fill="#fff" stroke="#000" stroke-width="2.7"/>
<path d="M1005.4 63.5H1095" stroke="#0072BD" stroke-width="2.5"/>
<path d="M1005.4 95.8H1095" stroke="#000" stroke-width="2.4" stroke-dasharray="22.9 12.6"/>
<g font-family='"Liberation Sans", Arial, Helvetica, sans-serif' font-size="26" fill="#000" stroke="#000" stroke-width="0.3">
<text x="1101.6" y="74.9" font-size="27.4" letter-spacing="-0.75">N<tspan dy="2.2">=</tspan><tspan dy="-2.2">0</tspan></text>
<text y="105.7" font-size="27.4" letter-spacing="-0.75"><tspan x="1102.1">k</tspan><tspan dy="2.2">=</tspan><tspan x="1154.2" dy="-2.2">2</tspan><tspan x="1177.1" letter-spacing="-0.66">(parabola case)</tspan></text>
<text transform="translate(1134.3 107.4) scale(1.17 1)" font-size="31" stroke="none">√</text>
</g>
<g font-family='"Liberation Sans", Arial, Helvetica, sans-serif' fill="#000" stroke="#000" stroke-width="0.3">
<text x="823.4" y="434.53" text-anchor="end" font-size="28.8">10<tspan dy="-13.2" font-size="24.4">-2</tspan></text>
<text x="821.9" y="273.6" text-anchor="end" font-size="28.8">10<tspan dy="-13.2" font-size="24.4">0</tspan></text>
<text x="821.7" y="112.67" text-anchor="end" font-size="28.8">10<tspan dy="-13.2" font-size="24.4">2</tspan></text>
<text x="835.2" y="545.4" text-anchor="middle" font-size="28.8">10<tspan dy="-13.2" font-size="24.4">-2</tspan></text>
<text x="1020.93" y="545.4" text-anchor="middle" font-size="28.8">10<tspan dy="-13.2" font-size="24.4">0</tspan></text>
<text x="1207.97" y="545.4" text-anchor="middle" font-size="28.8">10<tspan dy="-13.2" font-size="24.4">2</tspan></text>
<text x="1394.7" y="545.4" text-anchor="middle" font-size="28.8">10<tspan dy="-13.2" font-size="24.4">4</tspan></text>
<text transform="translate(938.8 279.1) scale(1 0.74)" x="-1.67" y="10.66" font-family='"DejaVu Sans Light", "DejaVu Sans", sans-serif' font-weight="200" font-size="34">←</text>
<text x="964.4" y="286.1" font-size="28.6">ellipse</text>
<text x="1080.6" y="286.1" font-size="28.6" letter-spacing="-0.2">hyperbola</text>
<text transform="translate(1208.7 279.1) scale(1 0.74)" x="-1.94" y="10.66" font-family='"DejaVu Sans Light", "DejaVu Sans", sans-serif' font-weight="200" font-size="34">→</text>
</g>
<text y="582.2" font-family='"Liberation Serif", "DejaVu Serif", serif' font-size="34"><tspan x="1067" font-style="italic">k</tspan><tspan x="1150.1">2</tspan></text><text x="1089.9" y="584.6" font-family='"DejaVu Sans Light", "DejaVu Sans", sans-serif' font-weight="200" font-size="34.7">+</text><text x="1123.4" y="583.6" font-family='"DejaVu Math TeX Gyre", "DejaVu Serif", serif' font-size="36.8">√</text><path d="M1147.9 554.6H1165.8" stroke="#000" stroke-width="1.6"/>
<text transform="translate(752 257.6) rotate(-90) scale(1.07 1)" text-anchor="middle" font-family='"Liberation Serif", "DejaVu Serif", serif' font-size="37" font-style="italic">W</text>
</svg>
</body></html>
